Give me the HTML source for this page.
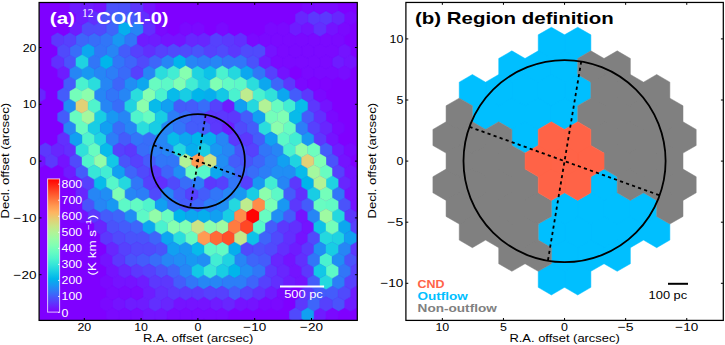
<!DOCTYPE html>
<html><head><meta charset="utf-8"><title>Figure</title><style>
html,body{margin:0;padding:0;background:#fff;width:725px;height:345px;overflow:hidden;}
svg{display:block;}
text{font-family:"Liberation Sans",sans-serif;}
.sf{font-family:"Liberation Serif",serif;}
</style></head><body>
<svg width="725" height="345" viewBox="0 0 725 345">
<rect x="0" y="0" width="725" height="345" fill="#ffffff"/>
<defs>
<clipPath id="ca"><rect x="39.10" y="2.50" width="318.20" height="317.90"/></clipPath>
<clipPath id="cb"><rect x="405.90" y="2.45" width="317.40" height="317.95"/></clipPath>
<linearGradient id="cbg" x1="0" y1="1" x2="0" y2="0"><stop offset="0.000" stop-color="#8000ff"/><stop offset="0.050" stop-color="#6826fe"/><stop offset="0.100" stop-color="#4e4dfc"/><stop offset="0.150" stop-color="#3473f8"/><stop offset="0.200" stop-color="#1996f3"/><stop offset="0.250" stop-color="#00b5eb"/><stop offset="0.300" stop-color="#18cde4"/><stop offset="0.350" stop-color="#32e3da"/><stop offset="0.400" stop-color="#4df3ce"/><stop offset="0.450" stop-color="#66fcc2"/><stop offset="0.500" stop-color="#80ffb4"/><stop offset="0.550" stop-color="#99fca6"/><stop offset="0.600" stop-color="#b2f396"/><stop offset="0.650" stop-color="#cce385"/><stop offset="0.700" stop-color="#e6cd73"/><stop offset="0.750" stop-color="#ffb360"/><stop offset="0.800" stop-color="#ff964f"/><stop offset="0.850" stop-color="#ff733b"/><stop offset="0.900" stop-color="#ff4d27"/><stop offset="0.950" stop-color="#ff2613"/><stop offset="1.000" stop-color="#ff0000"/></linearGradient>
</defs>
<g clip-path="url(#ca)">
<rect x="39.10" y="2.50" width="318.20" height="317.90" fill="#7f00ff"/>
<path fill="#6e1cff" stroke="#6e1cff" stroke-width="0.4" d="M75.90 -0.16 82.00 3.36 82.00 10.84 75.90 14.36 69.80 10.84 69.80 3.36ZM88.10 -0.16 94.20 3.36 94.20 10.84 88.10 14.36 82.00 10.84 82.00 3.36ZM82.00 10.84 88.10 14.36 88.10 21.84 82.00 25.36 75.90 21.84 75.90 14.36ZM75.90 21.84 82.00 25.36 82.00 32.84 75.90 36.36 69.80 32.84 69.80 25.36ZM295.50 21.84 301.60 25.36 301.60 32.84 295.50 36.36 289.40 32.84 289.40 25.36ZM143.00 32.84 149.10 36.36 149.10 43.84 143.00 47.36 136.90 43.84 136.90 36.36ZM155.20 32.84 161.30 36.36 161.30 43.84 155.20 47.36 149.10 43.84 149.10 36.36ZM265.00 54.84 271.10 58.36 271.10 65.84 265.00 69.36 258.90 65.84 258.90 58.36ZM338.20 54.84 344.30 58.36 344.30 65.84 338.20 69.36 332.10 65.84 332.10 58.36ZM63.70 65.84 69.80 69.36 69.80 76.84 63.70 80.36 57.60 76.84 57.60 69.36ZM228.40 98.84 234.50 102.36 234.50 109.84 228.40 113.36 222.30 109.84 222.30 102.36ZM228.40 120.84 234.50 124.36 234.50 131.84 228.40 135.36 222.30 131.84 222.30 124.36ZM338.20 142.84 344.30 146.36 344.30 153.84 338.20 157.36 332.10 153.84 332.10 146.36ZM69.80 164.84 75.90 168.36 75.90 175.84 69.80 179.36 63.70 175.84 63.70 168.36ZM295.50 241.84 301.60 245.36 301.60 252.84 295.50 256.36 289.40 252.84 289.40 245.36ZM143.00 274.84 149.10 278.36 149.10 285.84 143.00 289.36 136.90 285.84 136.90 278.36ZM289.40 274.84 295.50 278.36 295.50 285.84 289.40 289.36 283.30 285.84 283.30 278.36ZM149.10 285.84 155.20 289.36 155.20 296.84 149.10 300.36 143.00 296.84 143.00 289.36ZM271.10 285.84 277.20 289.36 277.20 296.84 271.10 300.36 265.00 296.84 265.00 289.36ZM356.50 285.84 362.60 289.36 362.60 296.84 356.50 300.36 350.40 296.84 350.40 289.36ZM130.80 296.84 136.90 300.36 136.90 307.84 130.80 311.36 124.70 307.84 124.70 300.36ZM143.00 296.84 149.10 300.36 149.10 307.84 143.00 311.36 136.90 307.84 136.90 300.36ZM216.20 296.84 222.30 300.36 222.30 307.84 216.20 311.36 210.10 307.84 210.10 300.36ZM350.40 296.84 356.50 300.36 356.50 307.84 350.40 311.36 344.30 307.84 344.30 300.36ZM319.90 307.84 326.00 311.36 326.00 318.84 319.90 322.36 313.80 318.84 313.80 311.36Z"/>
<path fill="#7413ff" stroke="#7413ff" stroke-width="0.4" d="M100.30 -0.16 106.40 3.36 106.40 10.84 100.30 14.36 94.20 10.84 94.20 3.36ZM149.10 -0.16 155.20 3.36 155.20 10.84 149.10 14.36 143.00 10.84 143.00 3.36ZM155.20 10.84 161.30 14.36 161.30 21.84 155.20 25.36 149.10 21.84 149.10 14.36ZM307.70 21.84 313.80 25.36 313.80 32.84 307.70 36.36 301.60 32.84 301.60 25.36ZM332.10 21.84 338.20 25.36 338.20 32.84 332.10 36.36 326.00 32.84 326.00 25.36ZM167.40 32.84 173.50 36.36 173.50 43.84 167.40 47.36 161.30 43.84 161.30 36.36ZM179.60 32.84 185.70 36.36 185.70 43.84 179.60 47.36 173.50 43.84 173.50 36.36ZM271.10 43.84 277.20 47.36 277.20 54.84 271.10 58.36 265.00 54.84 265.00 47.36ZM344.30 43.84 350.40 47.36 350.40 54.84 344.30 58.36 338.20 54.84 338.20 47.36ZM350.40 54.84 356.50 58.36 356.50 65.84 350.40 69.36 344.30 65.84 344.30 58.36ZM283.30 65.84 289.40 69.36 289.40 76.84 283.30 80.36 277.20 76.84 277.20 69.36ZM326.00 98.84 332.10 102.36 332.10 109.84 326.00 113.36 319.90 109.84 319.90 102.36ZM332.10 131.84 338.20 135.36 338.20 142.84 332.10 146.36 326.00 142.84 326.00 135.36ZM39.30 153.84 45.40 157.36 45.40 164.84 39.30 168.36 33.20 164.84 33.20 157.36ZM63.70 153.84 69.80 157.36 69.80 164.84 63.70 168.36 57.60 164.84 57.60 157.36ZM344.30 153.84 350.40 157.36 350.40 164.84 344.30 168.36 338.20 164.84 338.20 157.36ZM350.40 164.84 356.50 168.36 356.50 175.84 350.40 179.36 344.30 175.84 344.30 168.36ZM75.90 175.84 82.00 179.36 82.00 186.84 75.90 190.36 69.80 186.84 69.80 179.36ZM356.50 175.84 362.60 179.36 362.60 186.84 356.50 190.36 350.40 186.84 350.40 179.36ZM350.40 186.84 356.50 190.36 356.50 197.84 350.40 201.36 344.30 197.84 344.30 190.36ZM356.50 197.84 362.60 201.36 362.60 208.84 356.50 212.36 350.40 208.84 350.40 201.36ZM82.00 208.84 88.10 212.36 88.10 219.84 82.00 223.36 75.90 219.84 75.90 212.36ZM301.60 208.84 307.70 212.36 307.70 219.84 301.60 223.36 295.50 219.84 295.50 212.36ZM307.70 219.84 313.80 223.36 313.80 230.84 307.70 234.36 301.60 230.84 301.60 223.36ZM301.60 230.84 307.70 234.36 307.70 241.84 301.60 245.36 295.50 241.84 295.50 234.36ZM106.40 252.84 112.50 256.36 112.50 263.84 106.40 267.36 100.30 263.84 100.30 256.36ZM289.40 252.84 295.50 256.36 295.50 263.84 289.40 267.36 283.30 263.84 283.30 256.36ZM112.50 263.84 118.60 267.36 118.60 274.84 112.50 278.36 106.40 274.84 106.40 267.36ZM295.50 263.84 301.60 267.36 301.60 274.84 295.50 278.36 289.40 274.84 289.40 267.36ZM118.60 274.84 124.70 278.36 124.70 285.84 118.60 289.36 112.50 285.84 112.50 278.36ZM130.80 274.84 136.90 278.36 136.90 285.84 130.80 289.36 124.70 285.84 124.70 278.36ZM301.60 274.84 307.70 278.36 307.70 285.84 301.60 289.36 295.50 285.84 295.50 278.36ZM118.60 296.84 124.70 300.36 124.70 307.84 118.60 311.36 112.50 307.84 112.50 300.36ZM179.60 296.84 185.70 300.36 185.70 307.84 179.60 311.36 173.50 307.84 173.50 300.36ZM191.80 296.84 197.90 300.36 197.90 307.84 191.80 311.36 185.70 307.84 185.70 300.36ZM204.00 296.84 210.10 300.36 210.10 307.84 204.00 311.36 197.90 307.84 197.90 300.36ZM240.60 296.84 246.70 300.36 246.70 307.84 240.60 311.36 234.50 307.84 234.50 300.36ZM252.80 296.84 258.90 300.36 258.90 307.84 252.80 311.36 246.70 307.84 246.70 300.36ZM149.10 307.84 155.20 311.36 155.20 318.84 149.10 322.36 143.00 318.84 143.00 311.36ZM161.30 307.84 167.40 311.36 167.40 318.84 161.30 322.36 155.20 318.84 155.20 311.36Z"/>
<path fill="#4a53fb" stroke="#4a53fb" stroke-width="0.4" d="M112.50 -0.16 118.60 3.36 118.60 10.84 112.50 14.36 106.40 10.84 106.40 3.36ZM124.70 -0.16 130.80 3.36 130.80 10.84 124.70 14.36 118.60 10.84 118.60 3.36ZM106.40 10.84 112.50 14.36 112.50 21.84 106.40 25.36 100.30 21.84 100.30 14.36ZM197.90 43.84 204.00 47.36 204.00 54.84 197.90 58.36 191.80 54.84 191.80 47.36ZM69.80 54.84 75.90 58.36 75.90 65.84 69.80 69.36 63.70 65.84 63.70 58.36ZM252.80 54.84 258.90 58.36 258.90 65.84 252.80 69.36 246.70 65.84 246.70 58.36ZM240.60 142.84 246.70 146.36 246.70 153.84 240.60 157.36 234.50 153.84 234.50 146.36ZM124.70 153.84 130.80 157.36 130.80 164.84 124.70 168.36 118.60 164.84 118.60 157.36ZM246.70 153.84 252.80 157.36 252.80 164.84 246.70 168.36 240.60 164.84 240.60 157.36ZM332.10 153.84 338.20 157.36 338.20 164.84 332.10 168.36 326.00 164.84 326.00 157.36ZM88.10 197.84 94.20 201.36 94.20 208.84 88.10 212.36 82.00 208.84 82.00 201.36ZM344.30 197.84 350.40 201.36 350.40 208.84 344.30 212.36 338.20 208.84 338.20 201.36ZM112.50 219.84 118.60 223.36 118.60 230.84 112.50 234.36 106.40 230.84 106.40 223.36ZM130.80 230.84 136.90 234.36 136.90 241.84 130.80 245.36 124.70 241.84 124.70 234.36ZM143.00 230.84 149.10 234.36 149.10 241.84 143.00 245.36 136.90 241.84 136.90 234.36ZM161.30 241.84 167.40 245.36 167.40 252.84 161.30 256.36 155.20 252.84 155.20 245.36ZM258.90 241.84 265.00 245.36 265.00 252.84 258.90 256.36 252.80 252.84 252.80 245.36ZM130.80 252.84 136.90 256.36 136.90 263.84 130.80 267.36 124.70 263.84 124.70 256.36ZM350.40 252.84 356.50 256.36 356.50 263.84 350.40 267.36 344.30 263.84 344.30 256.36ZM161.30 263.84 167.40 267.36 167.40 274.84 161.30 278.36 155.20 274.84 155.20 267.36ZM338.20 296.84 344.30 300.36 344.30 307.84 338.20 311.36 332.10 307.84 332.10 300.36Z"/>
<path fill="#5c38fd" stroke="#5c38fd" stroke-width="0.4" d="M136.90 -0.16 143.00 3.36 143.00 10.84 136.90 14.36 130.80 10.84 130.80 3.36ZM313.80 10.84 319.90 14.36 319.90 21.84 313.80 25.36 307.70 21.84 307.70 14.36ZM326.00 10.84 332.10 14.36 332.10 21.84 326.00 25.36 319.90 21.84 319.90 14.36ZM57.60 32.84 63.70 36.36 63.70 43.84 57.60 47.36 51.50 43.84 51.50 36.36ZM228.40 32.84 234.50 36.36 234.50 43.84 228.40 47.36 222.30 43.84 222.30 36.36ZM234.50 43.84 240.60 47.36 240.60 54.84 234.50 58.36 228.40 54.84 228.40 47.36ZM289.40 76.84 295.50 80.36 295.50 87.84 289.40 91.36 283.30 87.84 283.30 80.36ZM307.70 87.84 313.80 91.36 313.80 98.84 307.70 102.36 301.60 98.84 301.60 91.36ZM313.80 98.84 319.90 102.36 319.90 109.84 313.80 113.36 307.70 109.84 307.70 102.36ZM210.10 109.84 216.20 113.36 216.20 120.84 210.10 124.36 204.00 120.84 204.00 113.36ZM222.30 109.84 228.40 113.36 228.40 120.84 222.30 124.36 216.20 120.84 216.20 113.36ZM234.50 109.84 240.60 113.36 240.60 120.84 234.50 124.36 228.40 120.84 228.40 113.36ZM216.20 120.84 222.30 124.36 222.30 131.84 216.20 135.36 210.10 131.84 210.10 124.36ZM234.50 131.84 240.60 135.36 240.60 142.84 234.50 146.36 228.40 142.84 228.40 135.36ZM246.70 131.84 252.80 135.36 252.80 142.84 246.70 146.36 240.60 142.84 240.60 135.36ZM319.90 131.84 326.00 135.36 326.00 142.84 319.90 146.36 313.80 142.84 313.80 135.36ZM45.40 142.84 51.50 146.36 51.50 153.84 45.40 157.36 39.30 153.84 39.30 146.36ZM130.80 142.84 136.90 146.36 136.90 153.84 130.80 157.36 124.70 153.84 124.70 146.36ZM51.50 153.84 57.60 157.36 57.60 164.84 51.50 168.36 45.40 164.84 45.40 157.36ZM155.20 164.84 161.30 168.36 161.30 175.84 155.20 179.36 149.10 175.84 149.10 168.36ZM210.10 175.84 216.20 179.36 216.20 186.84 210.10 190.36 204.00 186.84 204.00 179.36ZM295.50 175.84 301.60 179.36 301.60 186.84 295.50 190.36 289.40 186.84 289.40 179.36ZM295.50 197.84 301.60 201.36 301.60 208.84 295.50 212.36 289.40 208.84 289.40 201.36ZM94.20 208.84 100.30 212.36 100.30 219.84 94.20 223.36 88.10 219.84 88.10 212.36ZM350.40 208.84 356.50 212.36 356.50 219.84 350.40 223.36 344.30 219.84 344.30 212.36ZM283.30 219.84 289.40 223.36 289.40 230.84 283.30 234.36 277.20 230.84 277.20 223.36ZM106.40 230.84 112.50 234.36 112.50 241.84 106.40 245.36 100.30 241.84 100.30 234.36ZM307.70 241.84 313.80 245.36 313.80 252.84 307.70 256.36 301.60 252.84 301.60 245.36ZM356.50 241.84 362.60 245.36 362.60 252.84 356.50 256.36 350.40 252.84 350.40 245.36ZM118.60 252.84 124.70 256.36 124.70 263.84 118.60 267.36 112.50 263.84 112.50 256.36ZM136.90 263.84 143.00 267.36 143.00 274.84 136.90 278.36 130.80 274.84 130.80 267.36ZM271.10 263.84 277.20 267.36 277.20 274.84 271.10 278.36 265.00 274.84 265.00 267.36ZM307.70 263.84 313.80 267.36 313.80 274.84 307.70 278.36 301.60 274.84 301.60 267.36ZM155.20 274.84 161.30 278.36 161.30 285.84 155.20 289.36 149.10 285.84 149.10 278.36ZM167.40 274.84 173.50 278.36 173.50 285.84 167.40 289.36 161.30 285.84 161.30 278.36ZM173.50 285.84 179.60 289.36 179.60 296.84 173.50 300.36 167.40 296.84 167.40 289.36ZM185.70 285.84 191.80 289.36 191.80 296.84 185.70 300.36 179.60 296.84 179.60 289.36ZM197.90 285.84 204.00 289.36 204.00 296.84 197.90 300.36 191.80 296.84 191.80 289.36ZM307.70 285.84 313.80 289.36 313.80 296.84 307.70 300.36 301.60 296.84 301.60 289.36ZM301.60 296.84 307.70 300.36 307.70 307.84 301.60 311.36 295.50 307.84 295.50 300.36Z"/>
<path fill="#7a09ff" stroke="#7a09ff" stroke-width="0.4" d="M307.70 -0.16 313.80 3.36 313.80 10.84 307.70 14.36 301.60 10.84 301.60 3.36ZM319.90 -0.16 326.00 3.36 326.00 10.84 319.90 14.36 313.80 10.84 313.80 3.36ZM332.10 -0.16 338.20 3.36 338.20 10.84 332.10 14.36 326.00 10.84 326.00 3.36ZM350.40 10.84 356.50 14.36 356.50 21.84 350.40 25.36 344.30 21.84 344.30 14.36ZM161.30 21.84 167.40 25.36 167.40 32.84 161.30 36.36 155.20 32.84 155.20 25.36ZM185.70 21.84 191.80 25.36 191.80 32.84 185.70 36.36 179.60 32.84 179.60 25.36ZM197.90 21.84 204.00 25.36 204.00 32.84 197.90 36.36 191.80 32.84 191.80 25.36ZM222.30 21.84 228.40 25.36 228.40 32.84 222.30 36.36 216.20 32.84 216.20 25.36ZM271.10 21.84 277.20 25.36 277.20 32.84 271.10 36.36 265.00 32.84 265.00 25.36ZM283.30 21.84 289.40 25.36 289.40 32.84 283.30 36.36 277.20 32.84 277.20 25.36ZM344.30 21.84 350.40 25.36 350.40 32.84 344.30 36.36 338.20 32.84 338.20 25.36ZM252.80 32.84 258.90 36.36 258.90 43.84 252.80 47.36 246.70 43.84 246.70 36.36ZM265.00 32.84 271.10 36.36 271.10 43.84 265.00 47.36 258.90 43.84 258.90 36.36ZM277.20 32.84 283.30 36.36 283.30 43.84 277.20 47.36 271.10 43.84 271.10 36.36ZM289.40 32.84 295.50 36.36 295.50 43.84 289.40 47.36 283.30 43.84 283.30 36.36ZM301.60 32.84 307.70 36.36 307.70 43.84 301.60 47.36 295.50 43.84 295.50 36.36ZM313.80 32.84 319.90 36.36 319.90 43.84 313.80 47.36 307.70 43.84 307.70 36.36ZM326.00 32.84 332.10 36.36 332.10 43.84 326.00 47.36 319.90 43.84 319.90 36.36ZM338.20 32.84 344.30 36.36 344.30 43.84 338.20 47.36 332.10 43.84 332.10 36.36ZM283.30 43.84 289.40 47.36 289.40 54.84 283.30 58.36 277.20 54.84 277.20 47.36ZM295.50 43.84 301.60 47.36 301.60 54.84 295.50 58.36 289.40 54.84 289.40 47.36ZM307.70 43.84 313.80 47.36 313.80 54.84 307.70 58.36 301.60 54.84 301.60 47.36ZM319.90 43.84 326.00 47.36 326.00 54.84 319.90 58.36 313.80 54.84 313.80 47.36ZM332.10 43.84 338.20 47.36 338.20 54.84 332.10 58.36 326.00 54.84 326.00 47.36ZM277.20 54.84 283.30 58.36 283.30 65.84 277.20 69.36 271.10 65.84 271.10 58.36ZM289.40 54.84 295.50 58.36 295.50 65.84 289.40 69.36 283.30 65.84 283.30 58.36ZM301.60 54.84 307.70 58.36 307.70 65.84 301.60 69.36 295.50 65.84 295.50 58.36ZM313.80 54.84 319.90 58.36 319.90 65.84 313.80 69.36 307.70 65.84 307.70 58.36ZM326.00 54.84 332.10 58.36 332.10 65.84 326.00 69.36 319.90 65.84 319.90 58.36ZM307.70 65.84 313.80 69.36 313.80 76.84 307.70 80.36 301.60 76.84 301.60 69.36ZM319.90 65.84 326.00 69.36 326.00 76.84 319.90 80.36 313.80 76.84 313.80 69.36ZM332.10 65.84 338.20 69.36 338.20 76.84 332.10 80.36 326.00 76.84 326.00 69.36ZM301.60 76.84 307.70 80.36 307.70 87.84 301.60 91.36 295.50 87.84 295.50 80.36ZM319.90 87.84 326.00 91.36 326.00 98.84 319.90 102.36 313.80 98.84 313.80 91.36ZM332.10 109.84 338.20 113.36 338.20 120.84 332.10 124.36 326.00 120.84 326.00 113.36ZM338.20 120.84 344.30 124.36 344.30 131.84 338.20 135.36 332.10 131.84 332.10 124.36ZM350.40 142.84 356.50 146.36 356.50 153.84 350.40 157.36 344.30 153.84 344.30 146.36ZM75.90 197.84 82.00 201.36 82.00 208.84 75.90 212.36 69.80 208.84 69.80 201.36ZM106.40 274.84 112.50 278.36 112.50 285.84 106.40 289.36 100.30 285.84 100.30 278.36ZM112.50 285.84 118.60 289.36 118.60 296.84 112.50 300.36 106.40 296.84 106.40 289.36ZM124.70 285.84 130.80 289.36 130.80 296.84 124.70 300.36 118.60 296.84 118.60 289.36ZM136.90 285.84 143.00 289.36 143.00 296.84 136.90 300.36 130.80 296.84 130.80 289.36ZM283.30 285.84 289.40 289.36 289.40 296.84 283.30 300.36 277.20 296.84 277.20 289.36ZM106.40 296.84 112.50 300.36 112.50 307.84 106.40 311.36 100.30 307.84 100.30 300.36ZM265.00 296.84 271.10 300.36 271.10 307.84 265.00 311.36 258.90 307.84 258.90 300.36ZM277.20 296.84 283.30 300.36 283.30 307.84 277.20 311.36 271.10 307.84 271.10 300.36ZM112.50 307.84 118.60 311.36 118.60 318.84 112.50 322.36 106.40 318.84 106.40 311.36ZM124.70 307.84 130.80 311.36 130.80 318.84 124.70 322.36 118.60 318.84 118.60 311.36ZM136.90 307.84 143.00 311.36 143.00 318.84 136.90 322.36 130.80 318.84 130.80 311.36ZM173.50 307.84 179.60 311.36 179.60 318.84 173.50 322.36 167.40 318.84 167.40 311.36ZM185.70 307.84 191.80 311.36 191.80 318.84 185.70 322.36 179.60 318.84 179.60 311.36ZM197.90 307.84 204.00 311.36 204.00 318.84 197.90 322.36 191.80 318.84 191.80 311.36ZM210.10 307.84 216.20 311.36 216.20 318.84 210.10 322.36 204.00 318.84 204.00 311.36ZM222.30 307.84 228.40 311.36 228.40 318.84 222.30 322.36 216.20 318.84 216.20 311.36ZM332.10 307.84 338.20 311.36 338.20 318.84 332.10 322.36 326.00 318.84 326.00 311.36Z"/>
<path fill="#622ffe" stroke="#622ffe" stroke-width="0.4" d="M94.20 10.84 100.30 14.36 100.30 21.84 94.20 25.36 88.10 21.84 88.10 14.36ZM143.00 10.84 149.10 14.36 149.10 21.84 143.00 25.36 136.90 21.84 136.90 14.36ZM149.10 21.84 155.20 25.36 155.20 32.84 149.10 36.36 143.00 32.84 143.00 25.36ZM319.90 21.84 326.00 25.36 326.00 32.84 319.90 36.36 313.80 32.84 313.80 25.36ZM240.60 32.84 246.70 36.36 246.70 43.84 240.60 47.36 234.50 43.84 234.50 36.36ZM149.10 43.84 155.20 47.36 155.20 54.84 149.10 58.36 143.00 54.84 143.00 47.36ZM57.60 54.84 63.70 58.36 63.70 65.84 57.60 69.36 51.50 65.84 51.50 58.36ZM319.90 109.84 326.00 113.36 326.00 120.84 319.90 124.36 313.80 120.84 313.80 113.36ZM63.70 131.84 69.80 135.36 69.80 142.84 63.70 146.36 57.60 142.84 57.60 135.36ZM69.80 142.84 75.90 146.36 75.90 153.84 69.80 157.36 63.70 153.84 63.70 146.36ZM161.30 175.84 167.40 179.36 167.40 186.84 161.30 190.36 155.20 186.84 155.20 179.36ZM301.60 186.84 307.70 190.36 307.70 197.84 301.60 201.36 295.50 197.84 295.50 190.36ZM295.50 219.84 301.60 223.36 301.60 230.84 295.50 234.36 289.40 230.84 289.40 223.36ZM289.40 230.84 295.50 234.36 295.50 241.84 289.40 245.36 283.30 241.84 283.30 234.36ZM283.30 241.84 289.40 245.36 289.40 252.84 283.30 256.36 277.20 252.84 277.20 245.36ZM301.60 252.84 307.70 256.36 307.70 263.84 301.60 267.36 295.50 263.84 295.50 256.36ZM277.20 274.84 283.30 278.36 283.30 285.84 277.20 289.36 271.10 285.84 271.10 278.36ZM161.30 285.84 167.40 289.36 167.40 296.84 161.30 300.36 155.20 296.84 155.20 289.36ZM258.90 285.84 265.00 289.36 265.00 296.84 258.90 300.36 252.80 296.84 252.80 289.36ZM155.20 296.84 161.30 300.36 161.30 307.84 155.20 311.36 149.10 307.84 149.10 300.36Z"/>
<path fill="#386df9" stroke="#386df9" stroke-width="0.4" d="M118.60 10.84 124.70 14.36 124.70 21.84 118.60 25.36 112.50 21.84 112.50 14.36ZM94.20 32.84 100.30 36.36 100.30 43.84 94.20 47.36 88.10 43.84 88.10 36.36ZM75.90 43.84 82.00 47.36 82.00 54.84 75.90 58.36 69.80 54.84 69.80 47.36ZM118.60 98.84 124.70 102.36 124.70 109.84 118.60 113.36 112.50 109.84 112.50 102.36ZM204.00 98.84 210.10 102.36 210.10 109.84 204.00 113.36 197.90 109.84 197.90 102.36ZM185.70 109.84 191.80 113.36 191.80 120.84 185.70 124.36 179.60 120.84 179.60 113.36ZM118.60 120.84 124.70 124.36 124.70 131.84 118.60 135.36 112.50 131.84 112.50 124.36ZM149.10 131.84 155.20 135.36 155.20 142.84 149.10 146.36 143.00 142.84 143.00 135.36ZM143.00 142.84 149.10 146.36 149.10 153.84 143.00 157.36 136.90 153.84 136.90 146.36ZM252.80 164.84 258.90 168.36 258.90 175.84 252.80 179.36 246.70 175.84 246.70 168.36ZM185.70 175.84 191.80 179.36 191.80 186.84 185.70 190.36 179.60 186.84 179.60 179.36ZM155.20 252.84 161.30 256.36 161.30 263.84 155.20 267.36 149.10 263.84 149.10 256.36Z"/>
<path fill="#445cfb" stroke="#445cfb" stroke-width="0.4" d="M130.80 10.84 136.90 14.36 136.90 21.84 130.80 25.36 124.70 21.84 124.70 14.36ZM124.70 43.84 130.80 47.36 130.80 54.84 124.70 58.36 118.60 54.84 118.60 47.36ZM69.80 76.84 75.90 80.36 75.90 87.84 69.80 91.36 63.70 87.84 63.70 80.36ZM63.70 87.84 69.80 91.36 69.80 98.84 63.70 102.36 57.60 98.84 57.60 91.36ZM295.50 87.84 301.60 91.36 301.60 98.84 295.50 102.36 289.40 98.84 289.40 91.36ZM179.60 98.84 185.70 102.36 185.70 109.84 179.60 113.36 173.50 109.84 173.50 102.36ZM191.80 98.84 197.90 102.36 197.90 109.84 191.80 113.36 185.70 109.84 185.70 102.36ZM63.70 109.84 69.80 113.36 69.80 120.84 63.70 124.36 57.60 120.84 57.60 113.36ZM197.90 109.84 204.00 113.36 204.00 120.84 197.90 124.36 191.80 120.84 191.80 113.36ZM246.70 109.84 252.80 113.36 252.80 120.84 246.70 124.36 240.60 120.84 240.60 113.36ZM307.70 109.84 313.80 113.36 313.80 120.84 307.70 124.36 301.60 120.84 301.60 113.36ZM191.80 120.84 197.90 124.36 197.90 131.84 191.80 135.36 185.70 131.84 185.70 124.36ZM204.00 120.84 210.10 124.36 210.10 131.84 204.00 135.36 197.90 131.84 197.90 124.36ZM252.80 120.84 258.90 124.36 258.90 131.84 252.80 135.36 246.70 131.84 246.70 124.36ZM124.70 131.84 130.80 135.36 130.80 142.84 124.70 146.36 118.60 142.84 118.60 135.36ZM258.90 131.84 265.00 135.36 265.00 142.84 258.90 146.36 252.80 142.84 252.80 135.36ZM326.00 142.84 332.10 146.36 332.10 153.84 326.00 157.36 319.90 153.84 319.90 146.36ZM149.10 153.84 155.20 157.36 155.20 164.84 149.10 168.36 143.00 164.84 143.00 157.36ZM234.50 153.84 240.60 157.36 240.60 164.84 234.50 168.36 228.40 164.84 228.40 157.36ZM82.00 164.84 88.10 168.36 88.10 175.84 82.00 179.36 75.90 175.84 75.90 168.36ZM179.60 186.84 185.70 190.36 185.70 197.84 179.60 201.36 173.50 197.84 173.50 190.36ZM204.00 186.84 210.10 190.36 210.10 197.84 204.00 201.36 197.90 197.84 197.90 190.36ZM289.40 186.84 295.50 190.36 295.50 197.84 289.40 201.36 283.30 197.84 283.30 190.36ZM185.70 197.84 191.80 201.36 191.80 208.84 185.70 212.36 179.60 208.84 179.60 201.36ZM307.70 197.84 313.80 201.36 313.80 208.84 307.70 212.36 301.60 208.84 301.60 201.36ZM106.40 208.84 112.50 212.36 112.50 219.84 106.40 223.36 100.30 219.84 100.30 212.36ZM289.40 208.84 295.50 212.36 295.50 219.84 289.40 223.36 283.30 219.84 283.30 212.36ZM124.70 219.84 130.80 223.36 130.80 230.84 124.70 234.36 118.60 230.84 118.60 223.36ZM271.10 219.84 277.20 223.36 277.20 230.84 271.10 234.36 265.00 230.84 265.00 223.36ZM143.00 252.84 149.10 256.36 149.10 263.84 143.00 267.36 136.90 263.84 136.90 256.36ZM265.00 252.84 271.10 256.36 271.10 263.84 265.00 267.36 258.90 263.84 258.90 256.36ZM179.60 274.84 185.70 278.36 185.70 285.84 179.60 289.36 173.50 285.84 173.50 278.36ZM313.80 274.84 319.90 278.36 319.90 285.84 313.80 289.36 307.70 285.84 307.70 278.36ZM234.50 285.84 240.60 289.36 240.60 296.84 234.50 300.36 228.40 296.84 228.40 289.36ZM319.90 285.84 326.00 289.36 326.00 296.84 319.90 300.36 313.80 296.84 313.80 289.36ZM332.10 285.84 338.20 289.36 338.20 296.84 332.10 300.36 326.00 296.84 326.00 289.36Z"/>
<path fill="#6826fe" stroke="#6826fe" stroke-width="0.4" d="M301.60 10.84 307.70 14.36 307.70 21.84 301.60 25.36 295.50 21.84 295.50 14.36ZM338.20 10.84 344.30 14.36 344.30 21.84 338.20 25.36 332.10 21.84 332.10 14.36ZM191.80 32.84 197.90 36.36 197.90 43.84 191.80 47.36 185.70 43.84 185.70 36.36ZM204.00 32.84 210.10 36.36 210.10 43.84 204.00 47.36 197.90 43.84 197.90 36.36ZM39.30 87.84 45.40 91.36 45.40 98.84 39.30 102.36 33.20 98.84 33.20 91.36ZM326.00 120.84 332.10 124.36 332.10 131.84 326.00 135.36 319.90 131.84 319.90 124.36ZM57.60 142.84 63.70 146.36 63.70 153.84 57.60 157.36 51.50 153.84 51.50 146.36ZM344.30 175.84 350.40 179.36 350.40 186.84 344.30 190.36 338.20 186.84 338.20 179.36ZM82.00 186.84 88.10 190.36 88.10 197.84 82.00 201.36 75.90 197.84 75.90 190.36ZM100.30 219.84 106.40 223.36 106.40 230.84 100.30 234.36 94.20 230.84 94.20 223.36ZM112.50 241.84 118.60 245.36 118.60 252.84 112.50 256.36 106.40 252.84 106.40 245.36ZM277.20 252.84 283.30 256.36 283.30 263.84 277.20 267.36 271.10 263.84 271.10 256.36ZM124.70 263.84 130.80 267.36 130.80 274.84 124.70 278.36 118.60 274.84 118.60 267.36ZM283.30 263.84 289.40 267.36 289.40 274.84 283.30 278.36 277.20 274.84 277.20 267.36ZM167.40 296.84 173.50 300.36 173.50 307.84 167.40 311.36 161.30 307.84 161.30 300.36ZM228.40 296.84 234.50 300.36 234.50 307.84 228.40 311.36 222.30 307.84 222.30 300.36Z"/>
<path fill="#504afc" stroke="#504afc" stroke-width="0.4" d="M88.10 21.84 94.20 25.36 94.20 32.84 88.10 36.36 82.00 32.84 82.00 25.36ZM100.30 21.84 106.40 25.36 106.40 32.84 100.30 36.36 94.20 32.84 94.20 25.36ZM63.70 43.84 69.80 47.36 69.80 54.84 63.70 58.36 57.60 54.84 57.60 47.36ZM173.50 43.84 179.60 47.36 179.60 54.84 173.50 58.36 167.40 54.84 167.40 47.36ZM185.70 43.84 191.80 47.36 191.80 54.84 185.70 58.36 179.60 54.84 179.60 47.36ZM222.30 43.84 228.40 47.36 228.40 54.84 222.30 58.36 216.20 54.84 216.20 47.36ZM246.70 43.84 252.80 47.36 252.80 54.84 246.70 58.36 240.60 54.84 240.60 47.36ZM258.90 43.84 265.00 47.36 265.00 54.84 258.90 58.36 252.80 54.84 252.80 47.36ZM143.00 54.84 149.10 58.36 149.10 65.84 143.00 69.36 136.90 65.84 136.90 58.36ZM240.60 120.84 246.70 124.36 246.70 131.84 240.60 135.36 234.50 131.84 234.50 124.36ZM75.90 153.84 82.00 157.36 82.00 164.84 75.90 168.36 69.80 164.84 69.80 157.36ZM143.00 164.84 149.10 168.36 149.10 175.84 143.00 179.36 136.90 175.84 136.90 168.36ZM173.50 175.84 179.60 179.36 179.60 186.84 173.50 190.36 167.40 186.84 167.40 179.36ZM155.20 186.84 161.30 190.36 161.30 197.84 155.20 201.36 149.10 197.84 149.10 190.36ZM118.60 230.84 124.70 234.36 124.70 241.84 118.60 245.36 112.50 241.84 112.50 234.36ZM277.20 230.84 283.30 234.36 283.30 241.84 277.20 245.36 271.10 241.84 271.10 234.36ZM313.80 230.84 319.90 234.36 319.90 241.84 313.80 245.36 307.70 241.84 307.70 234.36ZM136.90 241.84 143.00 245.36 143.00 252.84 136.90 256.36 130.80 252.84 130.80 245.36ZM149.10 241.84 155.20 245.36 155.20 252.84 149.10 256.36 143.00 252.84 143.00 245.36ZM246.70 241.84 252.80 245.36 252.80 252.84 246.70 256.36 240.60 252.84 240.60 245.36ZM271.10 241.84 277.20 245.36 277.20 252.84 271.10 256.36 265.00 252.84 265.00 245.36ZM344.30 285.84 350.40 289.36 350.40 296.84 344.30 300.36 338.20 296.84 338.20 289.36ZM295.50 307.84 301.60 311.36 301.60 318.84 295.50 322.36 289.40 318.84 289.40 311.36Z"/>
<path fill="#3e65fa" stroke="#3e65fa" stroke-width="0.4" d="M112.50 21.84 118.60 25.36 118.60 32.84 112.50 36.36 106.40 32.84 106.40 25.36ZM82.00 32.84 88.10 36.36 88.10 43.84 82.00 47.36 75.90 43.84 75.90 36.36ZM130.80 54.84 136.90 58.36 136.90 65.84 130.80 69.36 124.70 65.84 124.70 58.36ZM155.20 54.84 161.30 58.36 161.30 65.84 155.20 69.36 149.10 65.84 149.10 58.36ZM118.60 76.84 124.70 80.36 124.70 87.84 118.60 91.36 112.50 87.84 112.50 80.36ZM277.20 76.84 283.30 80.36 283.30 87.84 277.20 91.36 271.10 87.84 271.10 80.36ZM258.90 153.84 265.00 157.36 265.00 164.84 258.90 168.36 252.80 164.84 252.80 157.36ZM130.80 164.84 136.90 168.36 136.90 175.84 130.80 179.36 124.70 175.84 124.70 168.36ZM167.40 164.84 173.50 168.36 173.50 175.84 167.40 179.36 161.30 175.84 161.30 168.36ZM240.60 164.84 246.70 168.36 246.70 175.84 240.60 179.36 234.50 175.84 234.50 168.36ZM197.90 197.84 204.00 201.36 204.00 208.84 197.90 212.36 191.80 208.84 191.80 201.36ZM118.60 208.84 124.70 212.36 124.70 219.84 118.60 223.36 112.50 219.84 112.50 212.36ZM136.90 219.84 143.00 223.36 143.00 230.84 136.90 234.36 130.80 230.84 130.80 223.36ZM155.20 230.84 161.30 234.36 161.30 241.84 155.20 245.36 149.10 241.84 149.10 234.36ZM265.00 230.84 271.10 234.36 271.10 241.84 265.00 245.36 258.90 241.84 258.90 234.36ZM252.80 252.84 258.90 256.36 258.90 263.84 252.80 267.36 246.70 263.84 246.70 256.36ZM173.50 263.84 179.60 267.36 179.60 274.84 173.50 278.36 167.40 274.84 167.40 267.36ZM252.80 274.84 258.90 278.36 258.90 285.84 252.80 289.36 246.70 285.84 246.70 278.36ZM313.80 296.84 319.90 300.36 319.90 307.84 313.80 311.36 307.70 307.84 307.70 300.36Z"/>
<path fill="#06aeed" stroke="#06aeed" stroke-width="0.4" d="M124.70 21.84 130.80 25.36 130.80 32.84 124.70 36.36 118.60 32.84 118.60 25.36ZM210.10 87.84 216.20 91.36 216.20 98.84 210.10 102.36 204.00 98.84 204.00 91.36ZM210.10 131.84 216.20 135.36 216.20 142.84 210.10 146.36 204.00 142.84 204.00 135.36ZM191.80 142.84 197.90 146.36 197.90 153.84 191.80 157.36 185.70 153.84 185.70 146.36ZM204.00 208.84 210.10 212.36 210.10 219.84 204.00 223.36 197.90 219.84 197.90 212.36ZM234.50 241.84 240.60 245.36 240.60 252.84 234.50 256.36 228.40 252.84 228.40 245.36Z"/>
<path fill="#2686f5" stroke="#2686f5" stroke-width="0.4" d="M136.90 21.84 143.00 25.36 143.00 32.84 136.90 36.36 130.80 32.84 130.80 25.36ZM112.50 43.84 118.60 47.36 118.60 54.84 112.50 58.36 106.40 54.84 106.40 47.36ZM167.40 54.84 173.50 58.36 173.50 65.84 167.40 69.36 161.30 65.84 161.30 58.36ZM191.80 54.84 197.90 58.36 197.90 65.84 191.80 69.36 185.70 65.84 185.70 58.36ZM216.20 54.84 222.30 58.36 222.30 65.84 216.20 69.36 210.10 65.84 210.10 58.36ZM75.90 65.84 82.00 69.36 82.00 76.84 75.90 80.36 69.80 76.84 69.80 69.36ZM100.30 65.84 106.40 69.36 106.40 76.84 100.30 80.36 94.20 76.84 94.20 69.36ZM149.10 65.84 155.20 69.36 155.20 76.84 149.10 80.36 143.00 76.84 143.00 69.36ZM106.40 76.84 112.50 80.36 112.50 87.84 106.40 91.36 100.30 87.84 100.30 80.36ZM100.30 87.84 106.40 91.36 106.40 98.84 100.30 102.36 94.20 98.84 94.20 91.36ZM124.70 87.84 130.80 91.36 130.80 98.84 124.70 102.36 118.60 98.84 118.60 91.36ZM106.40 98.84 112.50 102.36 112.50 109.84 106.40 113.36 100.30 109.84 100.30 102.36ZM124.70 109.84 130.80 113.36 130.80 120.84 124.70 124.36 118.60 120.84 118.60 113.36ZM69.80 120.84 75.90 124.36 75.90 131.84 69.80 135.36 63.70 131.84 63.70 124.36ZM130.80 120.84 136.90 124.36 136.90 131.84 130.80 135.36 124.70 131.84 124.70 124.36ZM167.40 120.84 173.50 124.36 173.50 131.84 167.40 135.36 161.30 131.84 161.30 124.36ZM161.30 131.84 167.40 135.36 167.40 142.84 161.30 146.36 155.20 142.84 155.20 135.36ZM222.30 131.84 228.40 135.36 228.40 142.84 222.30 146.36 216.20 142.84 216.20 135.36ZM167.40 142.84 173.50 146.36 173.50 153.84 167.40 157.36 161.30 153.84 161.30 146.36ZM228.40 142.84 234.50 146.36 234.50 153.84 228.40 157.36 222.30 153.84 222.30 146.36ZM277.20 142.84 283.30 146.36 283.30 153.84 277.20 157.36 271.10 153.84 271.10 146.36ZM228.40 164.84 234.50 168.36 234.50 175.84 228.40 179.36 222.30 175.84 222.30 168.36ZM283.30 175.84 289.40 179.36 289.40 186.84 283.30 190.36 277.20 186.84 277.20 179.36ZM94.20 186.84 100.30 190.36 100.30 197.84 94.20 201.36 88.10 197.84 88.10 190.36ZM130.80 186.84 136.90 190.36 136.90 197.84 130.80 201.36 124.70 197.84 124.70 190.36ZM167.40 186.84 173.50 190.36 173.50 197.84 167.40 201.36 161.30 197.84 161.30 190.36ZM228.40 186.84 234.50 190.36 234.50 197.84 228.40 201.36 222.30 197.84 222.30 190.36ZM100.30 197.84 106.40 201.36 106.40 208.84 100.30 212.36 94.20 208.84 94.20 201.36ZM313.80 208.84 319.90 212.36 319.90 219.84 313.80 223.36 307.70 219.84 307.70 212.36ZM344.30 241.84 350.40 245.36 350.40 252.84 344.30 256.36 338.20 252.84 338.20 245.36ZM167.40 252.84 173.50 256.36 173.50 263.84 167.40 267.36 161.30 263.84 161.30 256.36ZM240.60 252.84 246.70 256.36 246.70 263.84 240.60 267.36 234.50 263.84 234.50 256.36ZM185.70 263.84 191.80 267.36 191.80 274.84 185.70 278.36 179.60 274.84 179.60 267.36ZM204.00 274.84 210.10 278.36 210.10 285.84 204.00 289.36 197.90 285.84 197.90 278.36ZM216.20 274.84 222.30 278.36 222.30 285.84 216.20 289.36 210.10 285.84 210.10 278.36Z"/>
<path fill="#5641fd" stroke="#5641fd" stroke-width="0.4" d="M69.80 32.84 75.90 36.36 75.90 43.84 69.80 47.36 63.70 43.84 63.70 36.36ZM216.20 32.84 222.30 36.36 222.30 43.84 216.20 47.36 210.10 43.84 210.10 36.36ZM136.90 43.84 143.00 47.36 143.00 54.84 136.90 58.36 130.80 54.84 130.80 47.36ZM161.30 43.84 167.40 47.36 167.40 54.84 161.30 58.36 155.20 54.84 155.20 47.36ZM210.10 43.84 216.20 47.36 216.20 54.84 210.10 58.36 204.00 54.84 204.00 47.36ZM136.90 65.84 143.00 69.36 143.00 76.84 136.90 80.36 130.80 76.84 130.80 69.36ZM271.10 65.84 277.20 69.36 277.20 76.84 271.10 80.36 265.00 76.84 265.00 69.36ZM216.20 98.84 222.30 102.36 222.30 109.84 216.20 113.36 210.10 109.84 210.10 102.36ZM313.80 120.84 319.90 124.36 319.90 131.84 313.80 135.36 307.70 131.84 307.70 124.36ZM118.60 142.84 124.70 146.36 124.70 153.84 118.60 157.36 112.50 153.84 112.50 146.36ZM252.80 142.84 258.90 146.36 258.90 153.84 252.80 157.36 246.70 153.84 246.70 146.36ZM136.90 153.84 143.00 157.36 143.00 164.84 136.90 168.36 130.80 164.84 130.80 157.36ZM338.20 164.84 344.30 168.36 344.30 175.84 338.20 179.36 332.10 175.84 332.10 168.36ZM88.10 175.84 94.20 179.36 94.20 186.84 88.10 190.36 82.00 186.84 82.00 179.36ZM149.10 175.84 155.20 179.36 155.20 186.84 149.10 190.36 143.00 186.84 143.00 179.36ZM222.30 175.84 228.40 179.36 228.40 186.84 222.30 190.36 216.20 186.84 216.20 179.36ZM246.70 175.84 252.80 179.36 252.80 186.84 246.70 190.36 240.60 186.84 240.60 179.36ZM191.80 186.84 197.90 190.36 197.90 197.84 191.80 201.36 185.70 197.84 185.70 190.36ZM356.50 219.84 362.60 223.36 362.60 230.84 356.50 234.36 350.40 230.84 350.40 223.36ZM124.70 241.84 130.80 245.36 130.80 252.84 124.70 256.36 118.60 252.84 118.60 245.36ZM149.10 263.84 155.20 267.36 155.20 274.84 149.10 278.36 143.00 274.84 143.00 267.36ZM356.50 263.84 362.60 267.36 362.60 274.84 356.50 278.36 350.40 274.84 350.40 267.36ZM265.00 274.84 271.10 278.36 271.10 285.84 265.00 289.36 258.90 285.84 258.90 278.36ZM350.40 274.84 356.50 278.36 356.50 285.84 350.40 289.36 344.30 285.84 344.30 278.36ZM210.10 285.84 216.20 289.36 216.20 296.84 210.10 300.36 204.00 296.84 204.00 289.36ZM222.30 285.84 228.40 289.36 228.40 296.84 222.30 300.36 216.20 296.84 216.20 289.36ZM246.70 285.84 252.80 289.36 252.80 296.84 246.70 300.36 240.60 296.84 240.60 289.36ZM326.00 296.84 332.10 300.36 332.10 307.84 326.00 311.36 319.90 307.84 319.90 300.36Z"/>
<path fill="#3176f8" stroke="#3176f8" stroke-width="0.4" d="M106.40 32.84 112.50 36.36 112.50 43.84 106.40 47.36 100.30 43.84 100.30 36.36ZM130.80 32.84 136.90 36.36 136.90 43.84 130.80 47.36 124.70 43.84 124.70 36.36ZM100.30 43.84 106.40 47.36 106.40 54.84 100.30 58.36 94.20 54.84 94.20 47.36ZM94.20 54.84 100.30 58.36 100.30 65.84 94.20 69.36 88.10 65.84 88.10 58.36ZM118.60 54.84 124.70 58.36 124.70 65.84 118.60 69.36 112.50 65.84 112.50 58.36ZM228.40 54.84 234.50 58.36 234.50 65.84 228.40 69.36 222.30 65.84 222.30 58.36ZM240.60 54.84 246.70 58.36 246.70 65.84 240.60 69.36 234.50 65.84 234.50 58.36ZM258.90 65.84 265.00 69.36 265.00 76.84 258.90 80.36 252.80 76.84 252.80 69.36ZM112.50 87.84 118.60 91.36 118.60 98.84 112.50 102.36 106.40 98.84 106.40 91.36ZM179.60 120.84 185.70 124.36 185.70 131.84 179.60 135.36 173.50 131.84 173.50 124.36ZM136.90 131.84 143.00 135.36 143.00 142.84 136.90 146.36 130.80 142.84 130.80 135.36ZM265.00 142.84 271.10 146.36 271.10 153.84 265.00 157.36 258.90 153.84 258.90 146.36ZM161.30 153.84 167.40 157.36 167.40 164.84 161.30 168.36 155.20 164.84 155.20 157.36ZM173.50 153.84 179.60 157.36 179.60 164.84 173.50 168.36 167.40 164.84 167.40 157.36ZM136.90 175.84 143.00 179.36 143.00 186.84 136.90 190.36 130.80 186.84 130.80 179.36ZM234.50 175.84 240.60 179.36 240.60 186.84 234.50 190.36 228.40 186.84 228.40 179.36ZM216.20 186.84 222.30 190.36 222.30 197.84 216.20 201.36 210.10 197.84 210.10 190.36ZM338.20 186.84 344.30 190.36 344.30 197.84 338.20 201.36 332.10 197.84 332.10 190.36ZM173.50 197.84 179.60 201.36 179.60 208.84 173.50 212.36 167.40 208.84 167.40 201.36ZM313.80 252.84 319.90 256.36 319.90 263.84 313.80 267.36 307.70 263.84 307.70 256.36ZM258.90 263.84 265.00 267.36 265.00 274.84 258.90 278.36 252.80 274.84 252.80 267.36ZM344.30 263.84 350.40 267.36 350.40 274.84 344.30 278.36 338.20 274.84 338.20 267.36ZM191.80 274.84 197.90 278.36 197.90 285.84 191.80 289.36 185.70 285.84 185.70 278.36Z"/>
<path fill="#1898f2" stroke="#1898f2" stroke-width="0.4" d="M118.60 32.84 124.70 36.36 124.70 43.84 118.60 47.36 112.50 43.84 112.50 36.36ZM88.10 65.84 94.20 69.36 94.20 76.84 88.10 80.36 82.00 76.84 82.00 69.36ZM112.50 109.84 118.60 113.36 118.60 120.84 112.50 124.36 106.40 120.84 106.40 113.36ZM307.70 131.84 313.80 135.36 313.80 142.84 307.70 146.36 301.60 142.84 301.60 135.36ZM216.20 142.84 222.30 146.36 222.30 153.84 216.20 157.36 210.10 153.84 210.10 146.36ZM258.90 175.84 265.00 179.36 265.00 186.84 258.90 190.36 252.80 186.84 252.80 179.36ZM240.60 186.84 246.70 190.36 246.70 197.84 240.60 201.36 234.50 197.84 234.50 190.36ZM112.50 197.84 118.60 201.36 118.60 208.84 112.50 212.36 106.40 208.84 106.40 201.36ZM283.30 197.84 289.40 201.36 289.40 208.84 283.30 212.36 277.20 208.84 277.20 201.36ZM185.70 241.84 191.80 245.36 191.80 252.84 185.70 256.36 179.60 252.84 179.60 245.36ZM191.80 252.84 197.90 256.36 197.90 263.84 191.80 267.36 185.70 263.84 185.70 256.36Z"/>
<path fill="#0ca7ef" stroke="#0ca7ef" stroke-width="0.4" d="M88.10 43.84 94.20 47.36 94.20 54.84 88.10 58.36 82.00 54.84 82.00 47.36ZM246.70 65.84 252.80 69.36 252.80 76.84 246.70 80.36 240.60 76.84 240.60 69.36ZM143.00 76.84 149.10 80.36 149.10 87.84 143.00 91.36 136.90 87.84 136.90 80.36ZM265.00 76.84 271.10 80.36 271.10 87.84 265.00 91.36 258.90 87.84 258.90 80.36ZM283.30 87.84 289.40 91.36 289.40 98.84 283.30 102.36 277.20 98.84 277.20 91.36ZM185.70 131.84 191.80 135.36 191.80 142.84 185.70 146.36 179.60 142.84 179.60 135.36ZM216.20 164.84 222.30 168.36 222.30 175.84 216.20 179.36 210.10 175.84 210.10 168.36ZM191.80 208.84 197.90 212.36 197.90 219.84 191.80 223.36 185.70 219.84 185.70 212.36ZM149.10 219.84 155.20 223.36 155.20 230.84 149.10 234.36 143.00 230.84 143.00 223.36ZM344.30 219.84 350.40 223.36 350.40 230.84 344.30 234.36 338.20 230.84 338.20 223.36ZM167.40 230.84 173.50 234.36 173.50 241.84 167.40 245.36 161.30 241.84 161.30 234.36Z"/>
<path fill="#1fd3e1" stroke="#1fd3e1" stroke-width="0.4" d="M82.00 54.84 88.10 58.36 88.10 65.84 82.00 69.36 75.90 65.84 75.90 58.36ZM197.90 65.84 204.00 69.36 204.00 76.84 197.90 80.36 191.80 76.84 191.80 69.36ZM204.00 76.84 210.10 80.36 210.10 87.84 204.00 91.36 197.90 87.84 197.90 80.36ZM130.80 98.84 136.90 102.36 136.90 109.84 130.80 113.36 124.70 109.84 124.70 102.36ZM100.30 131.84 106.40 135.36 106.40 142.84 100.30 146.36 94.20 142.84 94.20 135.36ZM295.50 153.84 301.60 157.36 301.60 164.84 295.50 168.36 289.40 164.84 289.40 157.36ZM332.10 175.84 338.20 179.36 338.20 186.84 332.10 190.36 326.00 186.84 326.00 179.36ZM338.20 230.84 344.30 234.36 344.30 241.84 338.20 245.36 332.10 241.84 332.10 234.36ZM228.40 252.84 234.50 256.36 234.50 263.84 228.40 267.36 222.30 263.84 222.30 256.36Z"/>
<path fill="#00b5eb" stroke="#00b5eb" stroke-width="0.4" d="M106.40 54.84 112.50 58.36 112.50 65.84 106.40 69.36 100.30 65.84 100.30 58.36ZM179.60 54.84 185.70 58.36 185.70 65.84 179.60 69.36 173.50 65.84 173.50 58.36ZM197.90 87.84 204.00 91.36 204.00 98.84 197.90 102.36 191.80 98.84 191.80 91.36ZM197.90 131.84 204.00 135.36 204.00 142.84 197.90 146.36 191.80 142.84 191.80 135.36ZM307.70 175.84 313.80 179.36 313.80 186.84 307.70 190.36 301.60 186.84 301.60 179.36ZM179.60 208.84 185.70 212.36 185.70 219.84 179.60 223.36 173.50 219.84 173.50 212.36ZM234.50 263.84 240.60 267.36 240.60 274.84 234.50 278.36 228.40 274.84 228.40 267.36Z"/>
<path fill="#2c7ef7" stroke="#2c7ef7" stroke-width="0.4" d="M204.00 54.84 210.10 58.36 210.10 65.84 204.00 69.36 197.90 65.84 197.90 58.36ZM112.50 65.84 118.60 69.36 118.60 76.84 112.50 80.36 106.40 76.84 106.40 69.36ZM173.50 109.84 179.60 113.36 179.60 120.84 173.50 124.36 167.40 120.84 167.40 113.36ZM301.60 120.84 307.70 124.36 307.70 131.84 301.60 135.36 295.50 131.84 295.50 124.36ZM112.50 131.84 118.60 135.36 118.60 142.84 112.50 146.36 106.40 142.84 106.40 135.36ZM155.20 142.84 161.30 146.36 161.30 153.84 155.20 157.36 149.10 153.84 149.10 146.36ZM271.10 153.84 277.20 157.36 277.20 164.84 271.10 168.36 265.00 164.84 265.00 157.36ZM265.00 164.84 271.10 168.36 271.10 175.84 265.00 179.36 258.90 175.84 258.90 168.36ZM197.90 175.84 204.00 179.36 204.00 186.84 197.90 190.36 191.80 186.84 191.80 179.36ZM143.00 186.84 149.10 190.36 149.10 197.84 143.00 201.36 136.90 197.84 136.90 190.36ZM210.10 197.84 216.20 201.36 216.20 208.84 210.10 212.36 204.00 208.84 204.00 201.36ZM228.40 274.84 234.50 278.36 234.50 285.84 228.40 289.36 222.30 285.84 222.30 278.36ZM240.60 274.84 246.70 278.36 246.70 285.84 240.60 289.36 234.50 285.84 234.50 278.36ZM338.20 274.84 344.30 278.36 344.30 285.84 338.20 289.36 332.10 285.84 332.10 278.36Z"/>
<path fill="#396bf9" stroke="#396bf9" stroke-width="0.4" d="M124.70 65.84 130.80 69.36 130.80 76.84 124.70 80.36 118.60 76.84 118.60 69.36Z"/>
<path fill="#2adddd" stroke="#2adddd" stroke-width="0.4" d="M161.30 65.84 167.40 69.36 167.40 76.84 161.30 80.36 155.20 76.84 155.20 69.36ZM94.20 76.84 100.30 80.36 100.30 87.84 94.20 91.36 88.10 87.84 88.10 80.36ZM252.80 76.84 258.90 80.36 258.90 87.84 252.80 91.36 246.70 87.84 246.70 80.36ZM136.90 87.84 143.00 91.36 143.00 98.84 136.90 102.36 130.80 98.84 130.80 91.36ZM143.00 120.84 149.10 124.36 149.10 131.84 143.00 135.36 136.90 131.84 136.90 124.36ZM265.00 120.84 271.10 124.36 271.10 131.84 265.00 135.36 258.90 131.84 258.90 124.36ZM179.60 230.84 185.70 234.36 185.70 241.84 179.60 245.36 173.50 241.84 173.50 234.36Z"/>
<path fill="#42edd3" stroke="#42edd3" stroke-width="0.4" d="M173.50 65.84 179.60 69.36 179.60 76.84 173.50 80.36 167.40 76.84 167.40 69.36ZM191.80 76.84 197.90 80.36 197.90 87.84 191.80 91.36 185.70 87.84 185.70 80.36ZM289.40 98.84 295.50 102.36 295.50 109.84 289.40 113.36 283.30 109.84 283.30 102.36ZM295.50 131.84 301.60 135.36 301.60 142.84 295.50 146.36 289.40 142.84 289.40 135.36ZM106.40 164.84 112.50 168.36 112.50 175.84 106.40 179.36 100.30 175.84 100.30 168.36ZM271.10 175.84 277.20 179.36 277.20 186.84 271.10 190.36 265.00 186.84 265.00 179.36ZM216.20 252.84 222.30 256.36 222.30 263.84 216.20 267.36 210.10 263.84 210.10 256.36Z"/>
<path fill="#86ffb0" stroke="#86ffb0" stroke-width="0.4" d="M185.70 65.84 191.80 69.36 191.80 76.84 185.70 80.36 179.60 76.84 179.60 69.36ZM149.10 87.84 155.20 91.36 155.20 98.84 149.10 102.36 143.00 98.84 143.00 91.36ZM173.50 219.84 179.60 223.36 179.60 230.84 173.50 234.36 167.40 230.84 167.40 223.36Z"/>
<path fill="#0dc2e8" stroke="#0dc2e8" stroke-width="0.4" d="M210.10 65.84 216.20 69.36 216.20 76.84 210.10 80.36 204.00 76.84 204.00 69.36ZM319.90 219.84 326.00 223.36 326.00 230.84 319.90 234.36 313.80 230.84 313.80 223.36ZM252.80 230.84 258.90 234.36 258.90 241.84 252.80 245.36 246.70 241.84 246.70 234.36Z"/>
<path fill="#4af2cf" stroke="#4af2cf" stroke-width="0.4" d="M222.30 65.84 228.40 69.36 228.40 76.84 222.30 80.36 216.20 76.84 216.20 69.36ZM82.00 76.84 88.10 80.36 88.10 87.84 82.00 91.36 75.90 87.84 75.90 80.36ZM161.30 87.84 167.40 91.36 167.40 98.84 161.30 102.36 155.20 98.84 155.20 91.36ZM234.50 87.84 240.60 91.36 240.60 98.84 234.50 102.36 228.40 98.84 228.40 91.36ZM258.90 87.84 265.00 91.36 265.00 98.84 258.90 102.36 252.80 98.84 252.80 91.36ZM289.40 142.84 295.50 146.36 295.50 153.84 289.40 157.36 283.30 153.84 283.30 146.36ZM161.30 219.84 167.40 223.36 167.40 230.84 161.30 234.36 155.20 230.84 155.20 223.36ZM326.00 252.84 332.10 256.36 332.10 263.84 326.00 267.36 319.90 263.84 319.90 256.36Z"/>
<path fill="#24d8df" stroke="#24d8df" stroke-width="0.4" d="M234.50 65.84 240.60 69.36 240.60 76.84 234.50 80.36 228.40 76.84 228.40 69.36ZM252.80 98.84 258.90 102.36 258.90 109.84 252.80 113.36 246.70 109.84 246.70 102.36ZM179.60 142.84 185.70 146.36 185.70 153.84 179.60 157.36 173.50 153.84 173.50 146.36ZM124.70 175.84 130.80 179.36 130.80 186.84 124.70 190.36 118.60 186.84 118.60 179.36ZM234.50 197.84 240.60 201.36 240.60 208.84 234.50 212.36 228.40 208.84 228.40 201.36ZM338.20 208.84 344.30 212.36 344.30 219.84 338.20 223.36 332.10 219.84 332.10 212.36ZM326.00 230.84 332.10 234.36 332.10 241.84 326.00 245.36 319.90 241.84 319.90 234.36ZM326.00 274.84 332.10 278.36 332.10 285.84 326.00 289.36 319.90 285.84 319.90 278.36Z"/>
<path fill="#780dff" stroke="#780dff" stroke-width="0.4" d="M344.30 65.84 350.40 69.36 350.40 76.84 344.30 80.36 338.20 76.84 338.20 69.36Z"/>
<path fill="#208ef4" stroke="#208ef4" stroke-width="0.4" d="M130.80 76.84 136.90 80.36 136.90 87.84 130.80 91.36 124.70 87.84 124.70 80.36ZM69.80 98.84 75.90 102.36 75.90 109.84 69.80 113.36 63.70 109.84 63.70 102.36ZM222.30 153.84 228.40 157.36 228.40 164.84 222.30 168.36 216.20 164.84 216.20 157.36ZM179.60 164.84 185.70 168.36 185.70 175.84 179.60 179.36 173.50 175.84 173.50 168.36ZM277.20 164.84 283.30 168.36 283.30 175.84 277.20 179.36 271.10 175.84 271.10 168.36ZM289.40 164.84 295.50 168.36 295.50 175.84 289.40 179.36 283.30 175.84 283.30 168.36ZM106.40 186.84 112.50 190.36 112.50 197.84 106.40 201.36 100.30 197.84 100.30 190.36ZM222.30 197.84 228.40 201.36 228.40 208.84 222.30 212.36 216.20 208.84 216.20 201.36ZM130.80 208.84 136.90 212.36 136.90 219.84 130.80 223.36 124.70 219.84 124.70 212.36ZM277.20 208.84 283.30 212.36 283.30 219.84 277.20 223.36 271.10 219.84 271.10 212.36ZM319.90 241.84 326.00 245.36 326.00 252.84 319.90 256.36 313.80 252.84 313.80 245.36ZM179.60 252.84 185.70 256.36 185.70 263.84 179.60 267.36 173.50 263.84 173.50 256.36ZM204.00 252.84 210.10 256.36 210.10 263.84 204.00 267.36 197.90 263.84 197.90 256.36ZM338.20 252.84 344.30 256.36 344.30 263.84 338.20 267.36 332.10 263.84 332.10 256.36ZM246.70 263.84 252.80 267.36 252.80 274.84 246.70 278.36 240.60 274.84 240.60 267.36Z"/>
<path fill="#68fcc1" stroke="#68fcc1" stroke-width="0.4" d="M155.20 76.84 161.30 80.36 161.30 87.84 155.20 91.36 149.10 87.84 149.10 80.36ZM277.20 98.84 283.30 102.36 283.30 109.84 277.20 113.36 271.10 109.84 271.10 102.36ZM75.90 109.84 82.00 113.36 82.00 120.84 75.90 124.36 69.80 120.84 69.80 113.36ZM149.10 109.84 155.20 113.36 155.20 120.84 149.10 124.36 143.00 120.84 143.00 113.36ZM82.00 120.84 88.10 124.36 88.10 131.84 82.00 135.36 75.90 131.84 75.90 124.36ZM289.40 120.84 295.50 124.36 295.50 131.84 289.40 135.36 283.30 131.84 283.30 124.36ZM94.20 142.84 100.30 146.36 100.30 153.84 94.20 157.36 88.10 153.84 88.10 146.36ZM326.00 164.84 332.10 168.36 332.10 175.84 326.00 179.36 319.90 175.84 319.90 168.36ZM319.90 197.84 326.00 201.36 326.00 208.84 319.90 212.36 313.80 208.84 313.80 201.36ZM167.40 208.84 173.50 212.36 173.50 219.84 167.40 223.36 161.30 219.84 161.30 212.36ZM265.00 208.84 271.10 212.36 271.10 219.84 265.00 223.36 258.90 219.84 258.90 212.36ZM191.80 230.84 197.90 234.36 197.90 241.84 191.80 245.36 185.70 241.84 185.70 234.36Z"/>
<path fill="#5df9c7" stroke="#5df9c7" stroke-width="0.4" d="M167.40 76.84 173.50 80.36 173.50 87.84 167.40 91.36 161.30 87.84 161.30 80.36ZM240.60 76.84 246.70 80.36 246.70 87.84 240.60 91.36 234.50 87.84 234.50 80.36ZM283.30 131.84 289.40 135.36 289.40 142.84 283.30 146.36 277.20 142.84 277.20 135.36ZM277.20 186.84 283.30 190.36 283.30 197.84 277.20 201.36 271.10 197.84 271.10 190.36ZM124.70 197.84 130.80 201.36 130.80 208.84 124.70 212.36 118.60 208.84 118.60 201.36ZM143.00 208.84 149.10 212.36 149.10 219.84 143.00 223.36 136.90 219.84 136.90 212.36ZM210.10 241.84 216.20 245.36 216.20 252.84 210.10 256.36 204.00 252.84 204.00 245.36ZM332.10 263.84 338.20 267.36 338.20 274.84 332.10 278.36 326.00 274.84 326.00 267.36Z"/>
<path fill="#80ffb4" stroke="#80ffb4" stroke-width="0.4" d="M179.60 76.84 185.70 80.36 185.70 87.84 179.60 91.36 173.50 87.84 173.50 80.36ZM216.20 76.84 222.30 80.36 222.30 87.84 216.20 91.36 210.10 87.84 210.10 80.36ZM283.30 109.84 289.40 113.36 289.40 120.84 283.30 124.36 277.20 120.84 277.20 113.36ZM319.90 153.84 326.00 157.36 326.00 164.84 319.90 168.36 313.80 164.84 313.80 157.36ZM118.60 186.84 124.70 190.36 124.70 197.84 118.60 201.36 112.50 197.84 112.50 190.36ZM185.70 219.84 191.80 223.36 191.80 230.84 185.70 234.36 179.60 230.84 179.60 223.36Z"/>
<path fill="#62fbc4" stroke="#62fbc4" stroke-width="0.4" d="M228.40 76.84 234.50 80.36 234.50 87.84 228.40 91.36 222.30 87.84 222.30 80.36ZM136.90 197.84 143.00 201.36 143.00 208.84 136.90 212.36 130.80 208.84 130.80 201.36ZM332.10 197.84 338.20 201.36 338.20 208.84 332.10 212.36 326.00 208.84 326.00 201.36ZM222.30 241.84 228.40 245.36 228.40 252.84 222.30 256.36 216.20 252.84 216.20 245.36Z"/>
<path fill="#7e03ff" stroke="#7e03ff" stroke-width="0.4" d="M313.80 76.84 319.90 80.36 319.90 87.84 313.80 91.36 307.70 87.84 307.70 80.36ZM326.00 76.84 332.10 80.36 332.10 87.84 326.00 91.36 319.90 87.84 319.90 80.36Z"/>
<path fill="#74feba" stroke="#74feba" stroke-width="0.4" d="M75.90 87.84 82.00 91.36 82.00 98.84 75.90 102.36 69.80 98.84 69.80 91.36ZM271.10 109.84 277.20 113.36 277.20 120.84 271.10 124.36 265.00 120.84 265.00 113.36ZM326.00 186.84 332.10 190.36 332.10 197.84 326.00 201.36 319.90 197.84 319.90 190.36ZM332.10 219.84 338.20 223.36 338.20 230.84 332.10 234.36 326.00 230.84 326.00 223.36Z"/>
<path fill="#8cfead" stroke="#8cfead" stroke-width="0.4" d="M88.10 87.84 94.20 91.36 94.20 98.84 88.10 102.36 82.00 98.84 82.00 91.36ZM143.00 98.84 149.10 102.36 149.10 109.84 143.00 113.36 136.90 109.84 136.90 102.36ZM277.20 120.84 283.30 124.36 283.30 131.84 277.20 135.36 271.10 131.84 271.10 124.36ZM265.00 186.84 271.10 190.36 271.10 197.84 265.00 201.36 258.90 197.84 258.90 190.36ZM210.10 219.84 216.20 223.36 216.20 230.84 210.10 234.36 204.00 230.84 204.00 223.36Z"/>
<path fill="#07bbea" stroke="#07bbea" stroke-width="0.4" d="M173.50 87.84 179.60 91.36 179.60 98.84 173.50 102.36 167.40 98.84 167.40 91.36ZM155.20 98.84 161.30 102.36 161.30 109.84 155.20 113.36 149.10 109.84 149.10 102.36ZM301.60 98.84 307.70 102.36 307.70 109.84 301.60 113.36 295.50 109.84 295.50 102.36ZM295.50 109.84 301.60 113.36 301.60 120.84 295.50 124.36 289.40 120.84 289.40 113.36ZM173.50 131.84 179.60 135.36 179.60 142.84 173.50 146.36 167.40 142.84 167.40 135.36ZM106.40 142.84 112.50 146.36 112.50 153.84 106.40 157.36 100.30 153.84 100.30 146.36ZM301.60 164.84 307.70 168.36 307.70 175.84 301.60 179.36 295.50 175.84 295.50 168.36ZM100.30 175.84 106.40 179.36 106.40 186.84 100.30 190.36 94.20 186.84 94.20 179.36ZM197.90 241.84 204.00 245.36 204.00 252.84 197.90 256.36 191.80 252.84 191.80 245.36Z"/>
<path fill="#18cde4" stroke="#18cde4" stroke-width="0.4" d="M185.70 87.84 191.80 91.36 191.80 98.84 185.70 102.36 179.60 98.84 179.60 91.36ZM100.30 109.84 106.40 113.36 106.40 120.84 100.30 124.36 94.20 120.84 94.20 113.36ZM161.30 109.84 167.40 113.36 167.40 120.84 161.30 124.36 155.20 120.84 155.20 113.36ZM94.20 120.84 100.30 124.36 100.30 131.84 94.20 135.36 88.10 131.84 88.10 124.36ZM155.20 120.84 161.30 124.36 161.30 131.84 155.20 135.36 149.10 131.84 149.10 124.36ZM204.00 142.84 210.10 146.36 210.10 153.84 204.00 157.36 197.90 153.84 197.90 146.36ZM252.80 186.84 258.90 190.36 258.90 197.84 252.80 201.36 246.70 197.84 246.70 190.36ZM313.80 186.84 319.90 190.36 319.90 197.84 313.80 201.36 307.70 197.84 307.70 190.36ZM228.40 208.84 234.50 212.36 234.50 219.84 228.40 223.36 222.30 219.84 222.30 212.36ZM332.10 241.84 338.20 245.36 338.20 252.84 332.10 256.36 326.00 252.84 326.00 245.36ZM222.30 263.84 228.40 267.36 228.40 274.84 222.30 278.36 216.20 274.84 216.20 267.36Z"/>
<path fill="#12c8e6" stroke="#12c8e6" stroke-width="0.4" d="M222.30 87.84 228.40 91.36 228.40 98.84 222.30 102.36 216.20 98.84 216.20 91.36ZM112.50 153.84 118.60 157.36 118.60 164.84 112.50 168.36 106.40 164.84 106.40 157.36ZM197.90 263.84 204.00 267.36 204.00 274.84 197.90 278.36 191.80 274.84 191.80 267.36ZM319.90 263.84 326.00 267.36 326.00 274.84 319.90 278.36 313.80 274.84 313.80 267.36Z"/>
<path fill="#beec8e" stroke="#beec8e" stroke-width="0.4" d="M246.70 87.84 252.80 91.36 252.80 98.84 246.70 102.36 240.60 98.84 240.60 91.36ZM246.70 197.84 252.80 201.36 252.80 208.84 246.70 212.36 240.60 208.84 240.60 201.36Z"/>
<path fill="#30e1da" stroke="#30e1da" stroke-width="0.4" d="M271.10 87.84 277.20 91.36 277.20 98.84 271.10 102.36 265.00 98.84 265.00 91.36ZM82.00 142.84 88.10 146.36 88.10 153.84 82.00 157.36 75.90 153.84 75.90 146.36Z"/>
<path fill="#e2d176" stroke="#e2d176" stroke-width="0.4" d="M82.00 98.84 88.10 102.36 88.10 109.84 82.00 113.36 75.90 109.84 75.90 102.36ZM307.70 153.84 313.80 157.36 313.80 164.84 307.70 168.36 301.60 164.84 301.60 157.36Z"/>
<path fill="#50f4cc" stroke="#50f4cc" stroke-width="0.4" d="M94.20 98.84 100.30 102.36 100.30 109.84 94.20 113.36 88.10 109.84 88.10 102.36ZM136.90 109.84 143.00 113.36 143.00 120.84 136.90 124.36 130.80 120.84 130.80 113.36ZM88.10 131.84 94.20 135.36 94.20 142.84 88.10 146.36 82.00 142.84 82.00 135.36ZM88.10 153.84 94.20 157.36 94.20 164.84 88.10 168.36 82.00 164.84 82.00 157.36ZM149.10 197.84 155.20 201.36 155.20 208.84 149.10 212.36 143.00 208.84 143.00 201.36Z"/>
<path fill="#11a0f1" stroke="#11a0f1" stroke-width="0.4" d="M167.40 98.84 173.50 102.36 173.50 109.84 167.40 113.36 161.30 109.84 161.30 102.36ZM240.60 98.84 246.70 102.36 246.70 109.84 240.60 113.36 234.50 109.84 234.50 102.36ZM258.90 109.84 265.00 113.36 265.00 120.84 258.90 124.36 252.80 120.84 252.80 113.36ZM106.40 120.84 112.50 124.36 112.50 131.84 106.40 135.36 100.30 131.84 100.30 124.36ZM75.90 131.84 82.00 135.36 82.00 142.84 75.90 146.36 69.80 142.84 69.80 135.36ZM271.10 131.84 277.20 135.36 277.20 142.84 271.10 146.36 265.00 142.84 265.00 135.36ZM283.30 153.84 289.40 157.36 289.40 164.84 283.30 168.36 277.20 164.84 277.20 157.36ZM118.60 164.84 124.70 168.36 124.70 175.84 118.60 179.36 112.50 175.84 112.50 168.36ZM161.30 197.84 167.40 201.36 167.40 208.84 161.30 212.36 155.20 208.84 155.20 201.36ZM216.20 208.84 222.30 212.36 222.30 219.84 216.20 223.36 210.10 219.84 210.10 212.36ZM350.40 230.84 356.50 234.36 356.50 241.84 350.40 245.36 344.30 241.84 344.30 234.36ZM173.50 241.84 179.60 245.36 179.60 252.84 173.50 256.36 167.40 252.84 167.40 245.36ZM307.70 307.84 313.80 311.36 313.80 318.84 307.70 322.36 301.60 318.84 301.60 311.36Z"/>
<path fill="#b2f396" stroke="#b2f396" stroke-width="0.4" d="M265.00 98.84 271.10 102.36 271.10 109.84 265.00 113.36 258.90 109.84 258.90 102.36ZM185.70 153.84 191.80 157.36 191.80 164.84 185.70 168.36 179.60 164.84 179.60 157.36ZM319.90 175.84 326.00 179.36 326.00 186.84 319.90 190.36 313.80 186.84 313.80 179.36Z"/>
<path fill="#a4f89f" stroke="#a4f89f" stroke-width="0.4" d="M88.10 109.84 94.20 113.36 94.20 120.84 88.10 124.36 82.00 120.84 82.00 113.36ZM313.80 164.84 319.90 168.36 319.90 175.84 313.80 179.36 307.70 175.84 307.70 168.36Z"/>
<path fill="#92fda9" stroke="#92fda9" stroke-width="0.4" d="M301.60 142.84 307.70 146.36 307.70 153.84 301.60 157.36 295.50 153.84 295.50 146.36ZM100.30 153.84 106.40 157.36 106.40 164.84 100.30 168.36 94.20 164.84 94.20 157.36ZM155.20 208.84 161.30 212.36 161.30 219.84 155.20 223.36 149.10 219.84 149.10 212.36Z"/>
<path fill="#6efebe" stroke="#6efebe" stroke-width="0.4" d="M313.80 142.84 319.90 146.36 319.90 153.84 313.80 157.36 307.70 153.84 307.70 146.36ZM191.80 164.84 197.90 168.36 197.90 175.84 191.80 179.36 185.70 175.84 185.70 168.36Z"/>
<path fill="#ff9b52" stroke="#ff9b52" stroke-width="0.4" d="M197.90 153.84 204.00 157.36 204.00 164.84 197.90 168.36 191.80 164.84 191.80 157.36ZM204.00 230.84 210.10 234.36 210.10 241.84 204.00 245.36 197.90 241.84 197.90 234.36Z"/>
<path fill="#cbe486" stroke="#cbe486" stroke-width="0.4" d="M210.10 153.84 216.20 157.36 216.20 164.84 210.10 168.36 204.00 164.84 204.00 157.36ZM197.90 219.84 204.00 223.36 204.00 230.84 197.90 234.36 191.80 230.84 191.80 223.36Z"/>
<path fill="#37e6d8" stroke="#37e6d8" stroke-width="0.4" d="M94.20 164.84 100.30 168.36 100.30 175.84 94.20 179.36 88.10 175.84 88.10 168.36ZM210.10 263.84 216.20 267.36 216.20 274.84 210.10 278.36 204.00 274.84 204.00 267.36Z"/>
<path fill="#56f7ca" stroke="#56f7ca" stroke-width="0.4" d="M204.00 164.84 210.10 168.36 210.10 175.84 204.00 179.36 197.90 175.84 197.90 168.36ZM112.50 175.84 118.60 179.36 118.60 186.84 112.50 190.36 106.40 186.84 106.40 179.36ZM258.90 219.84 265.00 223.36 265.00 230.84 258.90 234.36 252.80 230.84 252.80 223.36Z"/>
<path fill="#ff8c49" stroke="#ff8c49" stroke-width="0.4" d="M258.90 197.84 265.00 201.36 265.00 208.84 258.90 212.36 252.80 208.84 252.80 201.36ZM240.60 208.84 246.70 212.36 246.70 219.84 240.60 223.36 234.50 219.84 234.50 212.36Z"/>
<path fill="#7affb7" stroke="#7affb7" stroke-width="0.4" d="M271.10 197.84 277.20 201.36 277.20 208.84 271.10 212.36 265.00 208.84 265.00 201.36Z"/>
<path fill="#ff0302" stroke="#ff0302" stroke-width="0.4" d="M252.80 208.84 258.90 212.36 258.90 219.84 252.80 223.36 246.70 219.84 246.70 212.36Z"/>
<path fill="#9efaa2" stroke="#9efaa2" stroke-width="0.4" d="M326.00 208.84 332.10 212.36 332.10 219.84 326.00 223.36 319.90 219.84 319.90 212.36ZM222.30 219.84 228.40 223.36 228.40 230.84 222.30 234.36 216.20 230.84 216.20 223.36Z"/>
<path fill="#ff7b40" stroke="#ff7b40" stroke-width="0.4" d="M234.50 219.84 240.60 223.36 240.60 230.84 234.50 234.36 228.40 230.84 228.40 223.36Z"/>
<path fill="#ff4724" stroke="#ff4724" stroke-width="0.4" d="M246.70 219.84 252.80 223.36 252.80 230.84 246.70 234.36 240.60 230.84 240.60 223.36Z"/>
<path fill="#ff6b37" stroke="#ff6b37" stroke-width="0.4" d="M216.20 230.84 222.30 234.36 222.30 241.84 216.20 245.36 210.10 241.84 210.10 234.36Z"/>
<path fill="#ff5029" stroke="#ff5029" stroke-width="0.4" d="M228.40 230.84 234.50 234.36 234.50 241.84 228.40 245.36 222.30 241.84 222.30 234.36Z"/>
<path fill="#c4e88a" stroke="#c4e88a" stroke-width="0.4" d="M240.60 230.84 246.70 234.36 246.70 241.84 240.60 245.36 234.50 241.84 234.50 234.36Z"/>
<circle cx="197.90" cy="161.10" r="46.97" fill="none" stroke="#000" stroke-width="1.70"/>
<line x1="205.65" y1="114.77" x2="190.15" y2="207.43" stroke="#000" stroke-width="1.70" stroke-dasharray="3.2 3.2"/>
<line x1="153.70" y1="145.19" x2="242.10" y2="177.01" stroke="#000" stroke-width="1.70" stroke-dasharray="3.2 3.2"/>
</g>
<rect x="47.6" y="178.9" width="12.0" height="133.2" fill="url(#cbg)" stroke="#ffffff" stroke-opacity="0.75" stroke-width="1"/>
<line x1="58.0" y1="312.50" x2="59.6" y2="312.50" stroke="#fff" stroke-width="0.8"/><text x="61.6" y="316.50" font-size="11.2" fill="#fff" textLength="6.9" lengthAdjust="spacingAndGlyphs">0</text>
<line x1="58.0" y1="296.46" x2="59.6" y2="296.46" stroke="#fff" stroke-width="0.8"/><text x="61.6" y="300.46" font-size="11.2" fill="#fff" textLength="20.5" lengthAdjust="spacingAndGlyphs">100</text>
<line x1="58.0" y1="280.42" x2="59.6" y2="280.42" stroke="#fff" stroke-width="0.8"/><text x="61.6" y="284.42" font-size="11.2" fill="#fff" textLength="20.5" lengthAdjust="spacingAndGlyphs">200</text>
<line x1="58.0" y1="264.38" x2="59.6" y2="264.38" stroke="#fff" stroke-width="0.8"/><text x="61.6" y="268.38" font-size="11.2" fill="#fff" textLength="20.5" lengthAdjust="spacingAndGlyphs">300</text>
<line x1="58.0" y1="248.34" x2="59.6" y2="248.34" stroke="#fff" stroke-width="0.8"/><text x="61.6" y="252.34" font-size="11.2" fill="#fff" textLength="20.5" lengthAdjust="spacingAndGlyphs">400</text>
<line x1="58.0" y1="232.30" x2="59.6" y2="232.30" stroke="#fff" stroke-width="0.8"/><text x="61.6" y="236.30" font-size="11.2" fill="#fff" textLength="20.5" lengthAdjust="spacingAndGlyphs">500</text>
<line x1="58.0" y1="216.26" x2="59.6" y2="216.26" stroke="#fff" stroke-width="0.8"/><text x="61.6" y="220.26" font-size="11.2" fill="#fff" textLength="20.5" lengthAdjust="spacingAndGlyphs">600</text>
<line x1="58.0" y1="200.22" x2="59.6" y2="200.22" stroke="#fff" stroke-width="0.8"/><text x="61.6" y="204.22" font-size="11.2" fill="#fff" textLength="20.5" lengthAdjust="spacingAndGlyphs">700</text>
<line x1="58.0" y1="184.18" x2="59.6" y2="184.18" stroke="#fff" stroke-width="0.8"/><text x="61.6" y="188.18" font-size="11.2" fill="#fff" textLength="20.5" lengthAdjust="spacingAndGlyphs">800</text>
<text transform="translate(95.7,245.1) rotate(-90)" text-anchor="middle" font-size="10.8" fill="#fff" textLength="60.6" lengthAdjust="spacingAndGlyphs">(K km s<tspan font-size="7.5" dy="-5.2">−1</tspan><tspan dy="5.2">)</tspan></text>
<line x1="280.0" y1="286.4" x2="324.1" y2="286.4" stroke="#fff" stroke-width="2"/>
<text x="284.2" y="297.6" font-size="11.2" fill="#fff" textLength="38.6" lengthAdjust="spacingAndGlyphs">500 pc</text>
<text x="49.8" y="23.7" font-size="16.3" font-weight="bold" fill="#fff" textLength="25.2" lengthAdjust="spacingAndGlyphs">(a)</text>
<text class="sf" x="82.1" y="16.9" font-size="12" fill="#fff" textLength="11.4" lengthAdjust="spacingAndGlyphs">12</text>
<text x="96.3" y="23.7" font-size="16.3" font-weight="bold" fill="#fff" textLength="72.2" lengthAdjust="spacingAndGlyphs">CO(1-0)</text>
<g clip-path="url(#cb)">
<path fill="#00bfff" stroke="#00bfff" stroke-width="0.5" d="M551.38 27.22 564.55 34.83 564.55 50.87 551.38 58.48 538.22 50.87 538.22 34.83ZM577.71 27.22 590.88 34.83 590.88 50.87 577.71 58.48 564.55 50.87 564.55 34.83ZM511.89 50.87 525.05 58.48 525.05 74.52 511.89 82.13 498.72 74.52 498.72 58.48ZM538.22 50.87 551.38 58.48 551.38 74.52 538.22 82.13 525.05 74.52 525.05 58.48ZM564.55 50.87 577.71 58.48 577.71 74.52 564.55 82.13 551.38 74.52 551.38 58.48ZM472.39 74.52 485.56 82.13 485.56 98.17 472.39 105.78 459.23 98.17 459.23 82.13ZM498.72 74.52 511.89 82.13 511.89 98.17 498.72 105.78 485.56 98.17 485.56 82.13ZM525.05 74.52 538.22 82.13 538.22 98.17 525.05 105.78 511.89 98.17 511.89 82.13ZM551.38 74.52 564.55 82.13 564.55 98.17 551.38 105.78 538.22 98.17 538.22 82.13ZM577.71 74.52 590.88 82.13 590.88 98.17 577.71 105.78 564.55 98.17 564.55 82.13ZM485.56 98.17 498.72 105.78 498.72 121.82 485.56 129.43 472.39 121.82 472.39 105.78ZM511.89 98.17 525.05 105.78 525.05 121.82 511.89 129.43 498.72 121.82 498.72 105.78ZM538.22 98.17 551.38 105.78 551.38 121.82 538.22 129.43 525.05 121.82 525.05 105.78ZM564.55 98.17 577.71 105.78 577.71 121.82 564.55 129.43 551.38 121.82 551.38 105.78ZM525.05 121.82 538.22 129.43 538.22 145.47 525.05 153.08 511.89 145.47 511.89 129.43ZM604.04 169.12 617.21 176.73 617.21 192.77 604.04 200.38 590.88 192.77 590.88 176.73ZM564.55 192.77 577.71 200.38 577.71 216.42 564.55 224.03 551.38 216.42 551.38 200.38ZM590.88 192.77 604.04 200.38 604.04 216.42 590.88 224.03 577.72 216.42 577.72 200.38ZM617.21 192.77 630.37 200.38 630.37 216.42 617.21 224.03 604.04 216.42 604.04 200.38ZM643.54 192.77 656.70 200.38 656.70 216.42 643.54 224.03 630.38 216.42 630.38 200.38ZM551.38 216.42 564.55 224.03 564.55 240.07 551.38 247.68 538.22 240.07 538.22 224.03ZM577.71 216.42 590.88 224.03 590.88 240.07 577.71 247.68 564.55 240.07 564.55 224.03ZM604.04 216.42 617.21 224.03 617.21 240.07 604.04 247.68 590.88 240.07 590.88 224.03ZM630.38 216.42 643.54 224.03 643.54 240.07 630.38 247.68 617.21 240.07 617.21 224.03ZM656.70 216.42 669.87 224.03 669.87 240.07 656.70 247.68 643.54 240.07 643.54 224.03ZM564.55 240.07 577.71 247.68 577.71 263.72 564.55 271.33 551.38 263.72 551.38 247.68ZM590.88 240.07 604.04 247.68 604.04 263.72 590.88 271.33 577.72 263.72 577.72 247.68ZM617.21 240.07 630.37 247.68 630.37 263.72 617.21 271.33 604.04 263.72 604.04 247.68ZM551.38 263.72 564.55 271.33 564.55 287.37 551.38 294.98 538.22 287.37 538.22 271.33ZM577.71 263.72 590.88 271.33 590.88 287.37 577.71 294.98 564.55 287.37 564.55 271.33Z"/>
<path fill="#808080" stroke="#808080" stroke-width="0.5" d="M590.88 50.87 604.04 58.48 604.04 74.52 590.88 82.13 577.72 74.52 577.72 58.48ZM617.21 50.87 630.37 58.48 630.37 74.52 617.21 82.13 604.04 74.52 604.04 58.48ZM604.04 74.52 617.21 82.13 617.21 98.17 604.04 105.78 590.88 98.17 590.88 82.13ZM630.38 74.52 643.54 82.13 643.54 98.17 630.38 105.78 617.21 98.17 617.21 82.13ZM656.70 74.52 669.87 82.13 669.87 98.17 656.70 105.78 643.54 98.17 643.54 82.13ZM459.23 98.17 472.39 105.78 472.39 121.82 459.23 129.43 446.06 121.82 446.06 105.78ZM590.88 98.17 604.04 105.78 604.04 121.82 590.88 129.43 577.72 121.82 577.72 105.78ZM617.21 98.17 630.37 105.78 630.37 121.82 617.21 129.43 604.04 121.82 604.04 105.78ZM643.54 98.17 656.70 105.78 656.70 121.82 643.54 129.43 630.38 121.82 630.38 105.78ZM669.87 98.17 683.03 105.78 683.03 121.82 669.87 129.43 656.70 121.82 656.70 105.78ZM446.06 121.82 459.23 129.43 459.23 145.47 446.06 153.08 432.90 145.47 432.90 129.43ZM472.39 121.82 485.56 129.43 485.56 145.47 472.39 153.08 459.23 145.47 459.23 129.43ZM498.72 121.82 511.89 129.43 511.89 145.47 498.72 153.08 485.56 145.47 485.56 129.43ZM604.04 121.82 617.21 129.43 617.21 145.47 604.04 153.08 590.88 145.47 590.88 129.43ZM630.38 121.82 643.54 129.43 643.54 145.47 630.38 153.08 617.21 145.47 617.21 129.43ZM656.70 121.82 669.87 129.43 669.87 145.47 656.70 153.08 643.54 145.47 643.54 129.43ZM683.03 121.82 696.20 129.43 696.20 145.47 683.03 153.08 669.87 145.47 669.87 129.43ZM459.23 145.47 472.39 153.08 472.39 169.12 459.23 176.73 446.06 169.12 446.06 153.08ZM485.56 145.47 498.72 153.08 498.72 169.12 485.56 176.73 472.39 169.12 472.39 153.08ZM511.89 145.47 525.05 153.08 525.05 169.12 511.89 176.73 498.72 169.12 498.72 153.08ZM617.21 145.47 630.37 153.08 630.37 169.12 617.21 176.73 604.04 169.12 604.04 153.08ZM643.54 145.47 656.70 153.08 656.70 169.12 643.54 176.73 630.38 169.12 630.38 153.08ZM669.87 145.47 683.03 153.08 683.03 169.12 669.87 176.73 656.70 169.12 656.70 153.08ZM446.06 169.12 459.23 176.73 459.23 192.77 446.06 200.38 432.90 192.77 432.90 176.73ZM472.39 169.12 485.56 176.73 485.56 192.77 472.39 200.38 459.23 192.77 459.23 176.73ZM498.72 169.12 511.89 176.73 511.89 192.77 498.72 200.38 485.56 192.77 485.56 176.73ZM525.05 169.12 538.22 176.73 538.22 192.77 525.05 200.38 511.89 192.77 511.89 176.73ZM630.38 169.12 643.54 176.73 643.54 192.77 630.38 200.38 617.21 192.77 617.21 176.73ZM656.70 169.12 669.87 176.73 669.87 192.77 656.70 200.38 643.54 192.77 643.54 176.73ZM683.03 169.12 696.20 176.73 696.20 192.77 683.03 200.38 669.87 192.77 669.87 176.73ZM459.23 192.77 472.39 200.38 472.39 216.42 459.23 224.03 446.06 216.42 446.06 200.38ZM485.56 192.77 498.72 200.38 498.72 216.42 485.56 224.03 472.39 216.42 472.39 200.38ZM511.89 192.77 525.05 200.38 525.05 216.42 511.89 224.03 498.72 216.42 498.72 200.38ZM538.22 192.77 551.38 200.38 551.38 216.42 538.22 224.03 525.05 216.42 525.05 200.38ZM669.87 192.77 683.03 200.38 683.03 216.42 669.87 224.03 656.70 216.42 656.70 200.38ZM472.39 216.42 485.56 224.03 485.56 240.07 472.39 247.68 459.23 240.07 459.23 224.03ZM498.72 216.42 511.89 224.03 511.89 240.07 498.72 247.68 485.56 240.07 485.56 224.03ZM525.05 216.42 538.22 224.03 538.22 240.07 525.05 247.68 511.89 240.07 511.89 224.03ZM511.89 240.07 525.05 247.68 525.05 263.72 511.89 271.33 498.72 263.72 498.72 247.68ZM538.22 240.07 551.38 247.68 551.38 263.72 538.22 271.33 525.05 263.72 525.05 247.68Z"/>
<path fill="#ff6347" stroke="#ff6347" stroke-width="0.5" d="M551.38 121.82 564.55 129.43 564.55 145.47 551.38 153.08 538.22 145.47 538.22 129.43ZM577.71 121.82 590.88 129.43 590.88 145.47 577.71 153.08 564.55 145.47 564.55 129.43ZM538.22 145.47 551.38 153.08 551.38 169.12 538.22 176.73 525.05 169.12 525.05 153.08ZM564.55 145.47 577.71 153.08 577.71 169.12 564.55 176.73 551.38 169.12 551.38 153.08ZM590.88 145.47 604.04 153.08 604.04 169.12 590.88 176.73 577.72 169.12 577.72 153.08ZM551.38 169.12 564.55 176.73 564.55 192.77 551.38 200.38 538.22 192.77 538.22 176.73ZM577.71 169.12 590.88 176.73 590.88 192.77 577.71 200.38 564.55 192.77 564.55 176.73Z"/>
<circle cx="564.55" cy="161.10" r="101.06" fill="none" stroke="#000" stroke-width="1.80"/>
<line x1="581.23" y1="61.43" x2="547.87" y2="260.77" stroke="#000" stroke-width="1.80" stroke-dasharray="3.2 3.2"/>
<line x1="469.47" y1="126.87" x2="659.63" y2="195.33" stroke="#000" stroke-width="1.80" stroke-dasharray="3.2 3.2"/>
</g>
<text x="417.6" y="288.2" font-size="11.4" font-weight="bold" fill="#ff6347" textLength="27.0" lengthAdjust="spacingAndGlyphs">CND</text>
<text x="417.6" y="300.2" font-size="11.4" font-weight="bold" fill="#00bfff" textLength="50.2" lengthAdjust="spacingAndGlyphs">Outflow</text>
<text x="417.6" y="312.3" font-size="11.4" font-weight="bold" fill="#808080" textLength="79.2" lengthAdjust="spacingAndGlyphs">Non-outflow</text>
<line x1="668.0" y1="283.8" x2="688.0" y2="283.8" stroke="#000" stroke-width="2"/>
<text x="648.6" y="298.6" font-size="11.2" fill="#000" textLength="38.6" lengthAdjust="spacingAndGlyphs">100 pc</text>
<text x="415.0" y="23.9" font-size="16.3" font-weight="bold" fill="#000" textLength="198.8" lengthAdjust="spacingAndGlyphs">(b) Region definition</text>
<line x1="84.30" y1="320.40" x2="84.30" y2="318.00" stroke="#000" stroke-width="1"/><line x1="84.30" y1="2.50" x2="84.30" y2="4.90" stroke="#000" stroke-width="1"/><text x="84.30" y="331.0" font-size="11.8" text-anchor="middle" fill="#000" textLength="13.8" lengthAdjust="spacingAndGlyphs">20</text>
<line x1="141.10" y1="320.40" x2="141.10" y2="318.00" stroke="#000" stroke-width="1"/><line x1="141.10" y1="2.50" x2="141.10" y2="4.90" stroke="#000" stroke-width="1"/><text x="141.10" y="331.0" font-size="11.8" text-anchor="middle" fill="#000" textLength="13.8" lengthAdjust="spacingAndGlyphs">10</text>
<line x1="197.90" y1="320.40" x2="197.90" y2="318.00" stroke="#000" stroke-width="1"/><line x1="197.90" y1="2.50" x2="197.90" y2="4.90" stroke="#000" stroke-width="1"/><text x="197.90" y="331.0" font-size="11.8" text-anchor="middle" fill="#000" textLength="6.9" lengthAdjust="spacingAndGlyphs">0</text>
<line x1="254.70" y1="320.40" x2="254.70" y2="318.00" stroke="#000" stroke-width="1"/><line x1="254.70" y1="2.50" x2="254.70" y2="4.90" stroke="#000" stroke-width="1"/><text x="254.70" y="331.0" font-size="11.8" text-anchor="middle" fill="#000" textLength="22.9" lengthAdjust="spacingAndGlyphs">−10</text>
<line x1="311.50" y1="320.40" x2="311.50" y2="318.00" stroke="#000" stroke-width="1"/><line x1="311.50" y1="2.50" x2="311.50" y2="4.90" stroke="#000" stroke-width="1"/><text x="311.50" y="331.0" font-size="11.8" text-anchor="middle" fill="#000" textLength="22.9" lengthAdjust="spacingAndGlyphs">−20</text>
<line x1="39.10" y1="47.50" x2="41.50" y2="47.50" stroke="#000" stroke-width="1"/><line x1="357.30" y1="47.50" x2="354.90" y2="47.50" stroke="#000" stroke-width="1"/><text x="36.50" y="51.60" font-size="11.8" text-anchor="end" fill="#000" textLength="13.8" lengthAdjust="spacingAndGlyphs">20</text>
<line x1="39.10" y1="104.30" x2="41.50" y2="104.30" stroke="#000" stroke-width="1"/><line x1="357.30" y1="104.30" x2="354.90" y2="104.30" stroke="#000" stroke-width="1"/><text x="36.50" y="108.40" font-size="11.8" text-anchor="end" fill="#000" textLength="13.8" lengthAdjust="spacingAndGlyphs">10</text>
<line x1="39.10" y1="161.10" x2="41.50" y2="161.10" stroke="#000" stroke-width="1"/><line x1="357.30" y1="161.10" x2="354.90" y2="161.10" stroke="#000" stroke-width="1"/><text x="36.50" y="165.20" font-size="11.8" text-anchor="end" fill="#000" textLength="6.9" lengthAdjust="spacingAndGlyphs">0</text>
<line x1="39.10" y1="217.90" x2="41.50" y2="217.90" stroke="#000" stroke-width="1"/><line x1="357.30" y1="217.90" x2="354.90" y2="217.90" stroke="#000" stroke-width="1"/><text x="36.50" y="222.00" font-size="11.8" text-anchor="end" fill="#000" textLength="22.9" lengthAdjust="spacingAndGlyphs">−10</text>
<line x1="39.10" y1="274.70" x2="41.50" y2="274.70" stroke="#000" stroke-width="1"/><line x1="357.30" y1="274.70" x2="354.90" y2="274.70" stroke="#000" stroke-width="1"/><text x="36.50" y="278.80" font-size="11.8" text-anchor="end" fill="#000" textLength="22.9" lengthAdjust="spacingAndGlyphs">−20</text>
<rect x="39.10" y="2.50" width="318.20" height="317.90" fill="none" stroke="#000" stroke-width="1.25"/>
<text x="198.20" y="342.3" font-size="11.8" text-anchor="middle" fill="#000" textLength="110.3" lengthAdjust="spacingAndGlyphs">R.A. offset (arcsec)</text>
<line x1="442.35" y1="320.40" x2="442.35" y2="318.00" stroke="#000" stroke-width="1"/><line x1="442.35" y1="2.45" x2="442.35" y2="4.85" stroke="#000" stroke-width="1"/><text x="442.35" y="331.0" font-size="11.8" text-anchor="middle" fill="#000" textLength="13.8" lengthAdjust="spacingAndGlyphs">10</text>
<line x1="503.45" y1="320.40" x2="503.45" y2="318.00" stroke="#000" stroke-width="1"/><line x1="503.45" y1="2.45" x2="503.45" y2="4.85" stroke="#000" stroke-width="1"/><text x="503.45" y="331.0" font-size="11.8" text-anchor="middle" fill="#000" textLength="6.9" lengthAdjust="spacingAndGlyphs">5</text>
<line x1="564.55" y1="320.40" x2="564.55" y2="318.00" stroke="#000" stroke-width="1"/><line x1="564.55" y1="2.45" x2="564.55" y2="4.85" stroke="#000" stroke-width="1"/><text x="564.55" y="331.0" font-size="11.8" text-anchor="middle" fill="#000" textLength="6.9" lengthAdjust="spacingAndGlyphs">0</text>
<line x1="625.65" y1="320.40" x2="625.65" y2="318.00" stroke="#000" stroke-width="1"/><line x1="625.65" y1="2.45" x2="625.65" y2="4.85" stroke="#000" stroke-width="1"/><text x="625.65" y="331.0" font-size="11.8" text-anchor="middle" fill="#000" textLength="16.0" lengthAdjust="spacingAndGlyphs">−5</text>
<line x1="686.75" y1="320.40" x2="686.75" y2="318.00" stroke="#000" stroke-width="1"/><line x1="686.75" y1="2.45" x2="686.75" y2="4.85" stroke="#000" stroke-width="1"/><text x="686.75" y="331.0" font-size="11.8" text-anchor="middle" fill="#000" textLength="22.9" lengthAdjust="spacingAndGlyphs">−10</text>
<line x1="405.90" y1="38.90" x2="408.30" y2="38.90" stroke="#000" stroke-width="1"/><line x1="723.30" y1="38.90" x2="720.90" y2="38.90" stroke="#000" stroke-width="1"/><text x="403.30" y="43.00" font-size="11.8" text-anchor="end" fill="#000" textLength="13.8" lengthAdjust="spacingAndGlyphs">10</text>
<line x1="405.90" y1="100.00" x2="408.30" y2="100.00" stroke="#000" stroke-width="1"/><line x1="723.30" y1="100.00" x2="720.90" y2="100.00" stroke="#000" stroke-width="1"/><text x="403.30" y="104.10" font-size="11.8" text-anchor="end" fill="#000" textLength="6.9" lengthAdjust="spacingAndGlyphs">5</text>
<line x1="405.90" y1="161.10" x2="408.30" y2="161.10" stroke="#000" stroke-width="1"/><line x1="723.30" y1="161.10" x2="720.90" y2="161.10" stroke="#000" stroke-width="1"/><text x="403.30" y="165.20" font-size="11.8" text-anchor="end" fill="#000" textLength="6.9" lengthAdjust="spacingAndGlyphs">0</text>
<line x1="405.90" y1="222.20" x2="408.30" y2="222.20" stroke="#000" stroke-width="1"/><line x1="723.30" y1="222.20" x2="720.90" y2="222.20" stroke="#000" stroke-width="1"/><text x="403.30" y="226.30" font-size="11.8" text-anchor="end" fill="#000" textLength="16.0" lengthAdjust="spacingAndGlyphs">−5</text>
<line x1="405.90" y1="283.30" x2="408.30" y2="283.30" stroke="#000" stroke-width="1"/><line x1="723.30" y1="283.30" x2="720.90" y2="283.30" stroke="#000" stroke-width="1"/><text x="403.30" y="287.40" font-size="11.8" text-anchor="end" fill="#000" textLength="22.9" lengthAdjust="spacingAndGlyphs">−10</text>
<rect x="405.90" y="2.45" width="317.40" height="317.95" fill="none" stroke="#000" stroke-width="1.25"/>
<text x="564.60" y="342.3" font-size="11.8" text-anchor="middle" fill="#000" textLength="110.3" lengthAdjust="spacingAndGlyphs">R.A. offset (arcsec)</text>
<text transform="translate(9.4,160.6) rotate(-90)" text-anchor="middle" font-size="11.8" fill="#000" textLength="115.6" lengthAdjust="spacingAndGlyphs">Decl. offset (arcsec)</text>
<text transform="translate(376.2,160.6) rotate(-90)" text-anchor="middle" font-size="11.8" fill="#000" textLength="115.6" lengthAdjust="spacingAndGlyphs">Decl. offset (arcsec)</text>
</svg>
</body></html>
